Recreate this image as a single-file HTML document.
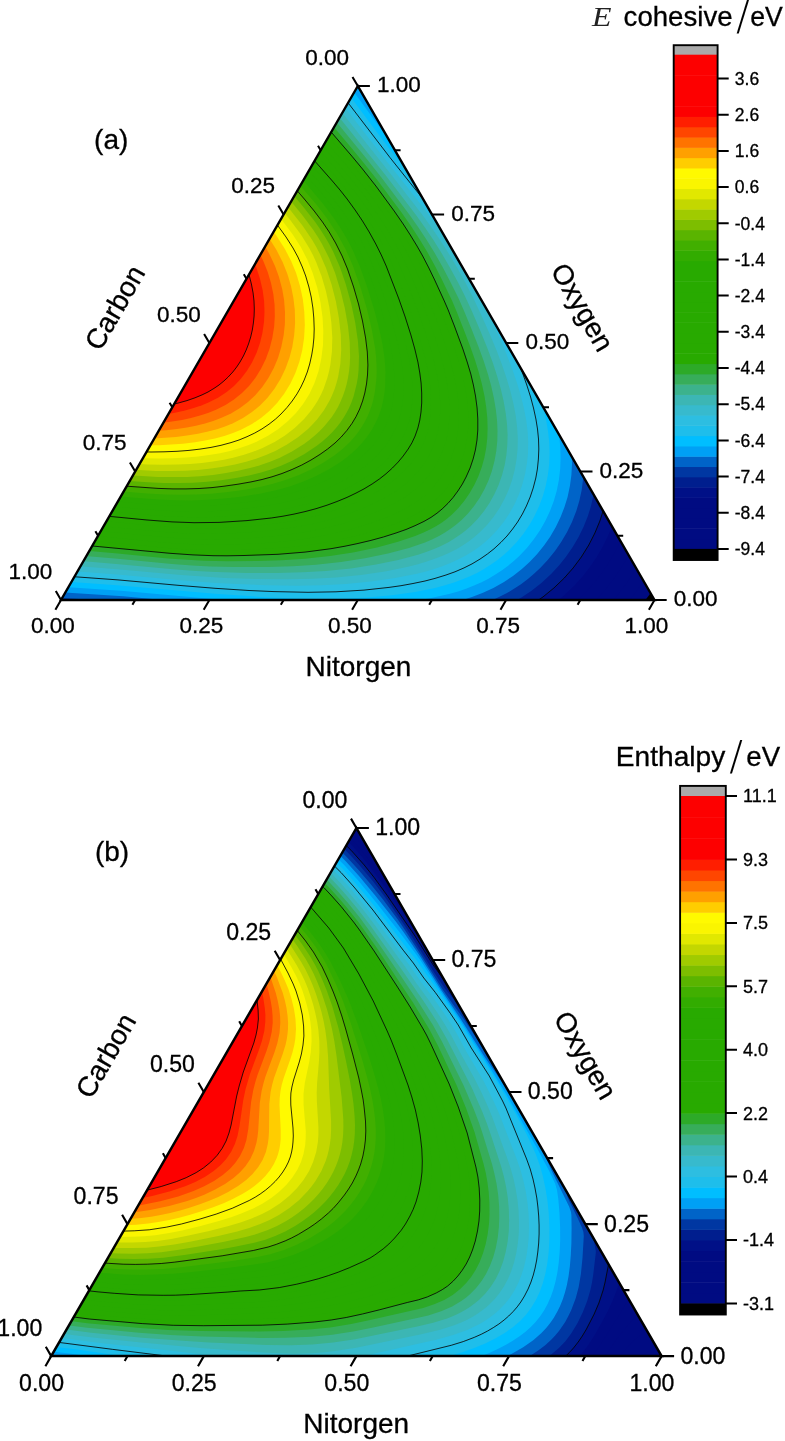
<!DOCTYPE html>
<html lang="en"><head><meta charset="utf-8"><title>Ternary contour plots</title>
<style>html,body{margin:0;padding:0;background:#fff}svg{display:block}text{stroke:#000;stroke-width:.3px}text.thin{stroke:none}</style></head>
<body>
<svg width="785" height="1441" viewBox="0 0 785 1441" font-family="'Liberation Sans', Arial, sans-serif" fill="#000">
<clipPath id="clipa"><path d="M357.8 86L61 600L654.5 600Z"/></clipPath>
<g clip-path="url(#clipa)" shape-rendering="geometricPrecision">
<path d="M357.8 86L61 600L654.5 600Z" fill="#000"/>
<path d="M57 82l361.8 0 11.2 16.5 10 14.1 10.1 13.4 11 14 17.9 21.4 58.8 68.6 79.8 95 24.3 30 9.1 12 8 11.3 0 201.9 -8 12.3 -8.5 11.5 -585.5 0z" fill="#000b82" fill-rule="evenodd"/>
<path d="M57 82l354 0 20.7 30 9.7 13 10.1 13 14.8 18 42.5 50 26.6 32 41.9 52 32.9 42 16.4 22 13.2 19 10.5 17 8.7 16.2 0 146.8 -7 14 -7.7 13 -8.3 12.1 -9.5 11.9 -569.5 0z" fill="#000b82" fill-rule="evenodd"/>
<path d="M57 82l346.4 0 20 29 17.6 23.5 15 18.6 43.8 51.9 25.3 31 34.3 44 33.1 44 20.5 29 8.6 13 6.8 11 6.4 11 5.8 11 4.8 10 4.2 10 3 8 2.5 8 2.2 8 1.7 8.1 0 57.4 -0.9 4.5 -3 12 -4 12 -4.9 12 -5.8 12 -6.3 11 -7.3 11 -8.4 11 -8.8 10 -552.6 0z" fill="#000b82" fill-rule="evenodd"/>
<path d="M57 82l339 0 20.7 30 16.4 22 15.9 19.9 40.4 48.1 22.6 28 27.7 36 30 41 23.6 34 9.1 14 8.6 14 6.9 12 6.4 12 5.7 12 4.6 11 4.4 12 3.4 12 2.6 12 1.7 12 0.8 12 -0.2 12 -1.1 12 -1.9 11 -2.9 12 -4 12 -5 12 -5.4 10.9 -6.5 11.1 -6.8 10 -7.9 10 -8.8 9.9 -5.1 5.1 -534.9 0z" fill="#000b82" fill-rule="evenodd"/>
<path d="M57 82l331.7 0 21.5 31 15.8 21.4 16 20.1 37.2 44.5 21 26 23.6 31 24.4 34 14.5 21 12.1 18 10.9 17 9.1 15 7.9 14 6.8 13 6.2 13 5 12 4.2 12 3.5 12 2.7 12 1.8 12 0.9 12 0 11 -0.9 12 -1.6 11 -2.9 12 -3.5 11 -4.5 11 -5.4 11 -6.4 11 -6.8 10 -7.8 10 -8.1 9 -6.1 6 -6.6 6 -516.2 0z" fill="#000b82" fill-rule="evenodd"/>
<path d="M57 82l324.5 0 23.5 33.6 15 20.3 15.9 20.1 35.9 43 18.4 23 21.1 28 21.3 30 13.5 20 13.1 20 11.3 18 10.1 17 8.3 15 7.2 14 6 13 5.4 13 4.5 13 3.4 12 2.6 12 1.8 12 0.9 12 0 11 -0.8 11 -1.7 11 -2.6 11 -3.1 10 -4.5 11 -5.4 11 -5.8 10 -6.8 10.1 -7.8 9.9 -8.2 9 -10 9.5 -10.4 8.5 -496.6 0z" fill="#001087" fill-rule="evenodd"/>
<path d="M57 82l317.4 0 24.6 35 14.8 20 16.5 21 33.3 40 16.8 21 18.9 25 18.9 27 13.4 20 12.8 20 11.6 19 10.5 18 8.8 16 7.1 14 6.4 14 5.3 13 4.6 13 3.5 12 2.7 12 1.9 12 1 12 0.2 11 -0.7 11 -1.5 11 -2.4 11 -3.2 10 -4.4 11 -5.4 11 -5.8 10 -6.6 9.7 -7.4 9.3 -7.6 8.3 -8 7.7 -7 6 -7.9 6 -7.4 5 -475.7 0z" fill="#001e8e" fill-rule="evenodd"/>
<path d="M57 82l310.4 0 27 38 13.2 18 17.3 22 31.5 38 16 20 17.9 24 17.4 25 12.4 19 12.5 20 11.4 19 10.2 18 9.1 17 7.4 15 6.2 14 5.2 13 4.5 13 3.4 12 2.7 12 1.7 11 1 12 0.2 11 -0.6 11 -1.5 11 -2.5 11 -3.1 10 -4.4 11 -4.9 10 -5.9 10 -6.7 9.8 -7 8.7 -7.9 8.5 -9.7 9 -10.2 8 -10.2 6.7 -11.3 6.3 -441.8 0 -10.9 -0.4z" fill="#0037a2" fill-rule="evenodd"/>
<path d="M57 82l303.3 0 7.5 10 24.2 34 15 20 16 20.2 30.5 36.8 14.9 19 14.6 20 13.8 20 11 17 11.7 19 11.1 19 10.6 19 8.5 16 7.8 16 6.7 15 5.6 14 4.5 13 3.4 12 2.7 12 2 12 1 11 0.2 11 -0.5 11 -1.4 11 -2.4 11 -3 10 -4.3 10.9 -4.9 10.1 -5.9 10 -6.2 9 -7.3 9 -7.5 8 -6.2 5.8 -6.1 5.2 -6.9 5.2 -7 4.6 -7 4.2 -8 4.1 -8 3.7 -8.2 3.2 -333.4 0 -39.4 -3.2 -53 -3z" fill="#0064c8" fill-rule="evenodd"/>
<path d="M57 82l296 0 7.9 10 24.4 34 16.7 22.2 17 21.4 27.5 33.4 13.3 17 14 19 12.9 19 11 17 10.9 18 10.9 19 10.3 19 8.7 17 7.7 16 6.6 15 5.5 14 4.4 13 3.4 12 2.7 12 1.9 12 1 11 0.3 11 -0.6 11 -1.5 11 -2.3 11 -3.1 10 -3.9 10 -4.8 10 -5.8 9.9 -6 8.6 -6.8 8.5 -7.6 8 -7.7 7 -8.9 7 -9 6 -10.6 6 -10.4 4.8 -11 4.3 -12 3.8 -12.4 3.1 -241.3 0 -83.3 -7.7 -66 -4.2z" fill="#00a0f5" fill-rule="evenodd"/>
<path d="M57 82l288.6 0 10.5 13 25.6 35 16.7 22 16.6 20.9 24.7 30.1 11 14 13.9 19 13 19 10.1 16 10.2 17 10.2 18 10.1 19 8.6 17 7.5 16 6.5 15 5.9 15 4.4 13 3.5 12 2.7 12 1.9 11 1.1 11 0.3 11 -0.4 11 -1.3 11 -2.2 11 -2.9 10 -3.8 10 -4.7 10 -5.1 9 -6.2 9.1 -7.1 8.9 -7.6 8 -5.5 5 -6 5 -5.8 4.2 -7 4.6 -7 4.1 -7 3.5 -7 3.1 -8 3.2 -8 2.7 -9 2.6 -19 4.3 -21 3.3 -23.1 2.4 -108.7 0 -49.2 -3.6 -107 -9.6 -64 -4.2z" fill="#00beff" fill-rule="evenodd"/>
<path d="M57 82l281.1 0 6.9 8 7 8.8 26.2 35.2 16.9 22 46.5 58 13.3 18 13 19 9.5 15 9.5 16 9 16 9.5 18 9 18 7.9 17 6.9 16 5.8 15 4.5 13 3.8 13 2.8 12 1.9 11 1.2 11 0.4 11 -0.4 11 -1.3 11 -2.2 11 -2.8 10 -3.7 10 -4.7 10 -5.1 9 -6.1 9 -6.5 8 -7.6 8 -5.5 5 -6.2 5 -6.5 4.6 -7 4.4 -7 3.9 -7 3.3 -8 3.4 -8 2.9 -9 2.8 -10 2.6 -19.9 4.1 -23.1 3.3 -25 2.3 -23 1.1 -24 0.4 -26 -0.6 -29 -1.3 -50 -3.4 -98 -8.6 -60 -4.2z" fill="#1ebeeb" fill-rule="evenodd"/>
<path d="M57 82l273.6 0 7.9 9 7.5 9.1 44 57.5 42.6 53.4 13.4 18 12.3 18 8.9 14 9 15 8.4 15 8.3 16 9.4 19 8.3 18 6.9 16 5.8 15 4.8 14 3.9 13 2.9 12 2.2 12 1.2 11 0.5 11 -0.4 11 -1 10 -2.1 11 -2.7 10 -3.6 10 -4.5 10 -5 9 -6.1 9 -6.4 8 -7.7 8 -5.6 5 -5.7 4.6 -6.3 4.4 -6.7 4.2 -7 3.8 -7 3.3 -8 3.2 -8 2.9 -18 5.1 -22 4.5 -23 3.3 -26 2.5 -22 1.1 -24 0.4 -25 -0.4 -34 -1.3 -45 -3 -88 -7.7 -61 -4.4z" fill="#2dbee1" fill-rule="evenodd"/>
<path d="M57 82l266 0 10 11 10 12.1 43 55.3 37.7 47.6 12.7 17 12.4 18 8.9 14 8.4 14 8.4 15 7.3 14 8.7 18 9.1 20 6.8 16 5.8 15 4.8 14 3.9 13 3 12 2.3 12 1.4 11 0.6 11 -0.2 11 -1 10 -1.9 11 -2.6 10 -3.4 10 -4.4 10 -5 9 -6 9 -6.7 8.3 -7.4 7.7 -5.6 5 -6 4.7 -6.3 4.3 -6.7 4 -7 3.6 -7 3.2 -8 3.2 -8 2.7 -9 2.7 -9 2.3 -22 4.4 -24 3.5 -25 2.4 -24 1.3 -25 0.4 -30 -0.5 -30 -1.1 -21 -1.2 -27 -1.9 -72 -6.5 -60 -4.5z" fill="#37bacd" fill-rule="evenodd"/>
<path d="M57 82l258.3 0 4.8 5 9.9 10.9 10 12 50.7 64.1 31.8 41 9.4 13 8.8 13 8.3 13 8.3 14 8.3 15 7.2 14 8 17 8.9 20 6.7 16 5.7 15 4.7 14 3.8 13 2.9 12 2.3 12 1.3 11 0.7 11 -0.2 11 -1 10 -1.9 11 -2.6 10 -3.5 10 -4.1 9 -4.9 9 -6.1 9 -6.5 7.9 -6.9 7.1 -5.7 5 -5.4 4.2 -6 4.1 -7 4.1 -7 3.6 -7 3.1 -8 3 -8 2.7 -9 2.6 -10 2.5 -22 4.5 -24 3.5 -25 2.5 -23 1.3 -26 0.5 -31 -0.2 -31 -1.1 -44 -2.8 -64 -5.9 -60 -4.7z" fill="#3cb6b4" fill-rule="evenodd"/>
<path d="M57 82l250.5 0 10.7 11 9.8 10.9 11 13.1 46.4 58 30.6 40 9.3 13 8.1 12 8.1 13 8.1 14 8.2 15 7.1 14 6.9 15 8.6 20 6.9 17 5.6 15 4.2 13 3.7 13 2.8 12 2.1 12 1.3 11 0.6 11 -0.3 10 -0.9 10 -1.7 10 -2.6 10 -3.5 10 -4.1 9 -5 9 -5.4 8 -6.5 8 -6.8 7 -5.8 5 -5 3.8 -6 4 -6 3.6 -7 3.5 -7 3.1 -7.9 3 -8.1 2.7 -19.7 5.3 -22.3 4.6 -25 3.8 -25 2.5 -23 1.4 -26 0.7 -31 -0.1 -30 -0.9 -20 -1.1 -20 -1.4 -60 -5.6 -59 -4.9z" fill="#3cb28c" fill-rule="evenodd"/>
<path d="M57 82l242.7 0 8.3 8.2 8.4 8.8 10.7 12 14.9 17.8 23 28 16 20.2 27.9 37 9.2 13 8.6 13 8 13 7.9 14 7.3 14 8.5 17 5.7 13 7.8 19 6.7 17 5.1 14 4.2 13 3.3 12 2.7 12 2 12 1.2 11 0.4 10 -0.2 10 -1 10 -1.8 10 -2.6 10 -3.2 9 -4.1 9 -5 9 -5.5 8 -6.1 7.5 -6.4 6.5 -5.6 4.8 -5 3.8 -6 3.9 -6 3.4 -7 3.5 -7 3 -16 5.5 -21 5.6 -23 4.8 -24 3.7 -25 2.7 -23 1.5 -25 0.7 -33 0.1 -25 -0.6 -18 -1 -20 -1.5 -57 -5.4 -58 -4.9z" fill="#37ad5a" fill-rule="evenodd"/>
<path d="M57 82l234.6 0 12.4 11.9 11.5 12.1 11.5 13 22 26 15 18.2 13.3 16.8 23.9 32 9.8 14 8.4 13 7.9 13 7.7 14 6.6 13 10.6 22 5 12 7.1 18 6.1 16 4.6 13 3.7 12 3.2 12 2.6 12 1.7 11 1.1 11 0.3 10 -0.3 10 -1.1 10 -1.9 10 -2.5 9 -3.3 9 -4.2 9 -4.6 8 -5.5 8 -5.8 7 -6.4 6.4 -5 4.3 -5 3.7 -5.6 3.6 -6.4 3.5 -7 3.3 -7.8 3.2 -17.2 5.8 -21 5.6 -24 5.1 -23 3.6 -25 2.7 -23 1.5 -25 0.8 -30 0.2 -23 -0.6 -17 -0.9 -19 -1.4 -53 -5.1 -58 -5.1z" fill="#2daa28" fill-rule="evenodd"/>
<path d="M57 82l226.5 0 15 14 15.5 16.3 33 38.1 13.8 16.6 12.2 15.3 21.2 28.7 10.3 15 7.7 12 8.3 14 6.4 12 6.9 14 10.5 23 10.1 25 7.4 20 4.5 13 3.6 12 2.9 11 2.2 11 1.6 11 1 11 0.3 10 -0.4 10 -1 9 -1.8 9 -2.5 9 -3.3 9 -3.9 8.2 -4.4 7.8 -5.6 8 -5.8 7 -6.2 6.2 -5 4.3 -5 3.6 -6 3.7 -6 3.1 -7 3.3 -8 3.3 -18 6.1 -21 5.8 -22 4.8 -22 3.7 -25 2.9 -23 1.6 -26 1 -26 0.4 -23 -0.6 -17 -0.9 -18 -1.4 -108 -10.2z" fill="#28aa00" fill-rule="evenodd"/>
<path d="M57 82l218.1 0 9.2 8 9.5 9 9.2 9.3 10 10.8 33 37.9 11 13.1 11.1 13.9 9.1 12 10.7 15 9.5 14 7.5 12 8.2 14 6.2 12 6.2 13 9.7 22 5.1 12 5.9 15 6.1 17 4.8 14 3.5 12 2.8 11 2.2 11 1.5 10 0.9 10 0.3 10 -0.3 10 -1 9 -1.8 9 -2.5 9 -2.9 8 -3.8 8 -4.5 8 -4.9 7 -5.6 6.8 -6.1 6.2 -4.9 4.1 -5.3 3.9 -5.7 3.5 -6.4 3.5 -7.6 3.6 -8 3.4 -18 6.4 -21 6 -22 5 -22 3.8 -23.1 2.8 -22.9 1.8 -28 1.1 -21 0.4 -22 -0.5 -17 -0.9 -18 -1.5 -105 -10z" fill="#28aa00" fill-rule="evenodd"/>
<path d="M57 82l209.5 0 11.5 9.6 11.2 10.4 11.8 11.9 12 13.1 33 37.8 18.1 22.2 9 12 9.2 13 8.6 13 7.4 12 6.3 11 5.3 10 5.3 11 5.3 12 10.1 24 5.9 15 6.2 17 5.6 17 3.4 12 2.7 11 2 10 1.4 10 0.9 10 0.2 10 -0.4 9 -1.1 9 -1.7 9 -2.3 8 -3 8 -3.9 8 -4.1 7 -4.9 7 -5.5 6.5 -6 5.9 -5.6 4.6 -5.4 3.8 -6 3.8 -6.2 3.4 -7.8 3.8 -8 3.4 -18.5 6.8 -20.2 6 -20.3 4.8 -22 3.9 -22 2.7 -22 1.8 -27 1.2 -21 0.4 -20 -0.5 -17 -0.9 -19 -1.5 -101 -9.9z" fill="#28aa00" fill-rule="evenodd"/>
<path d="M57 82l200.7 0 13.6 11 13.7 12.4 13.4 13.6 15.6 17.1 30 34.3 16.7 20.6 8.2 11 8.4 12 7.8 12 7.2 12 6.1 11 5.6 11 5 11 5.6 13 8.8 22 6.1 16 6 17 4.7 15 3 11 2.5 11 1.8 10 1.3 10 0.7 10 0 9 -0.6 9 -1 8 -1.7 8 -2.4 8 -3.2 8 -3.5 7 -4.3 7 -4.8 6.5 -5 5.7 -6 5.8 -5 4.1 -6 4.4 -6 3.8 -6.6 3.7 -7.4 3.7 -8 3.6 -18 7 -19 5.9 -20 4.9 -20 3.7 -22 2.9 -22 1.9 -26 1.3 -20 0.4 -20 -0.4 -17 -1 -20 -1.6 -75 -7.2 -22 -2.5z" fill="#28aa00" fill-rule="evenodd"/>
<path d="M57 82l191.5 0 9.4 7 9.1 7.4 9.7 8.6 9.3 8.9 17.3 18.1 29.7 33.6 18.1 21.4 7.7 10 7.3 10 6.8 10 6.9 11 6.5 11 5.9 11 5.8 12 5.7 13 6.1 15 8.1 21 10 29 3.7 12 3.1 12 2.2 10 1.5 9 1.1 9 0.6 9 0.1 9 -0.4 8 -1 8 -1.3 7 -1.9 7 -2.5 7 -2.7 6 -3.4 6.1 -4 6.1 -4.5 5.8 -5.4 6 -5.3 5 -4.9 4 -5.9 4.4 -6 3.9 -7 4.1 -15 7.4 -17 6.8 -18 5.9 -19 4.9 -20 3.8 -21 2.9 -22 2 -24 1.3 -20 0.4 -20 -0.4 -18 -1 -20 -1.7 -67 -6.5 -26 -2.9z" fill="#28aa00" fill-rule="evenodd"/>
<path d="M57 82l181.8 0 10.2 7.1 11 8.6 10.9 9.3 10.1 9.5 9.4 9.5 10.2 11 35.4 40.1 15.5 18.9 6.6 9 7 10 6.4 10 6 10 5.5 10 5 10 5.4 12 6.9 17 12 32 5.3 16 4 13 3 11 2.5 11 1.7 9 1.2 9 0.8 9 0.2 8 -0.2 8 -0.7 8 -1.1 7 -1.6 7 -1.9 6 -2.5 6.2 -3 5.8 -3.6 6 -4.4 6 -4.2 5 -4.8 5.1 -6 5.5 -5.4 4.4 -5.6 4 -6.1 4 -6.9 4 -15 7.5 -16 6.4 -17 5.6 -18 4.7 -18 3.5 -21 2.9 -22 2 -23 1.3 -19 0.4 -20 -0.5 -19 -1.1 -23 -1.9 -56 -5.5 -29 -3.4z" fill="#28aa00" fill-rule="evenodd"/>
<path d="M57 82l171.6 0 11.4 7.4 12 8.8 12 10 11.8 10.8 11 11 11.2 12 38.7 44 7.3 9 6.8 9 6.4 9 5.9 9 5.5 9 5.6 10 4.7 9 4.3 9 4.6 11 7.4 19 11 31 8.1 27 2.7 11 2.2 11 1.3 9 0.8 8 0.4 8 0 8 -0.5 8 -0.9 7 -1.3 6.7 -1.7 6.3 -2.2 6 -2.2 5 -3.4 6 -3.5 5.3 -4.4 5.7 -5.2 6 -5 5 -5.7 5 -10.7 8.1 -13 7.9 -14.2 7 -15.8 6.4 -16 5.3 -18 4.6 -17 3.2 -20 2.8 -22 2 -21 1.2 -19 0.3 -19 -0.5 -23 -1.4 -36 -3.3 -38 -3.9 -26 -3.2z" fill="#28aa00" fill-rule="evenodd"/>
<path d="M57 82l160.6 0 12.4 7.3 13 9 13 10.2 13 11.5 12 11.8 12.5 13.2 30.1 34 11.4 13.4 12.8 16.6 11.3 17 5.3 9 4.9 9 4.5 9 4 9 4.5 11 7.4 20 9.7 29 4.1 14 3.2 12 2.4 11 1.7 10 1 8 0.6 8 0.2 8 -0.2 7 -0.6 7 -1 7 -1.6 7 -1.9 6 -2.4 6 -2.9 5.9 -3 5.1 -4 5.7 -4.2 5.3 -4.5 5 -5.1 5 -5.7 5 -5.5 4.2 -6 4.2 -12.7 7.6 -14.3 7 -15 6 -15.7 5 -16.3 4.1 -17 3.2 -19 2.6 -21 1.9 -19 1.1 -19 0.3 -19 -0.5 -24 -1.5 -38 -3.5 -32 -3.3 -25 -3.3z" fill="#28aa00" fill-rule="evenodd"/>
<path d="M57 82l148.5 0 14.5 7.7 14.6 9.3 14.4 10.8 14 12.1 12.6 12.1 13.4 14.1 30.9 34.9 12.7 15 12 16 10.4 16 4.6 8 4.7 9 4.3 9 3.9 9 4.6 12 6.4 18 9.2 29 3.5 13 2.6 11 2 10 1.5 10 0.8 8 0.4 8 -0.1 7 -0.3 7 -0.8 7 -1.3 6.9 -1.6 6.1 -2 6 -2.4 5.7 -2.7 5.3 -3.3 5.5 -3.9 5.5 -4.1 5.1 -5 5.4 -5 4.8 -5.5 4.7 -11 8 -12.5 7.4 -14 6.8 -15 6 -15.1 4.8 -16.1 4 -16.8 3.1 -20 2.6 -20 1.8 -18 1 -18 0.1 -18 -0.5 -24 -1.6 -37 -3.4 -29 -3.2 -24 -3.2z" fill="#28aa00" fill-rule="evenodd"/>
<path d="M62.3 83l2.7 -1 126.9 0 8.1 3.5 7.2 3.5 7.8 4.2 8 4.8 7 4.5 15 11.1 14.4 12.4 13.6 13.1 15 15.9 30 34.1 14 17 11 15.4 9.5 15.5 8.2 16 7.1 17 4.8 13 5.3 16 4.4 14 3.6 13 3 12 2.3 11 1.6 10 1 9 0.6 8 0.1 7 -0.3 7 -0.6 7 -1.1 7 -1.3 6 -1.8 6 -2.2 6 -2.8 6 -2.7 5 -3.7 5.7 -4 5.3 -4.3 5 -4.8 5 -4.9 4.5 -5.5 4.5 -11.5 7.9 -12.4 7.1 -13.6 6.4 -15 5.7 -15 4.6 -15 3.5 -17 2.9 -19 2.4 -18 1.6 -17 0.8 -17 0.1 -18 -0.6 -25 -1.7 -34 -3.2 -27 -3 -23 -3.3 0 -409.1z" fill="#28aa00" fill-rule="evenodd"/>
<path d="M75.7 83l3.4 -1 96.2 0 7.7 2.5 8 3.1 7.7 3.4 7.3 3.6 14.6 8.4 14.4 9.9 14 11.2 14 12.8 9 9 9.5 10.1 25.7 29 15.2 18 11.6 15.3 5.2 7.7 4.9 8 4.5 8 4.1 8 7 16 7.2 20 7.7 25 3.4 13 2.6 11 2 10 1.4 9 1 9 0.5 9 -0.3 14 -0.7 7 -1 6 -1.3 6 -1.7 6 -2.2 6 -2.8 6 -3.2 6 -3.2 5 -3.7 5 -4.2 5 -4.8 5 -4.4 4.1 -5 4.1 -6 4.5 -11.5 7.3 -13.3 7 -13.2 5.7 -14 5 -14 3.9 -15 3.1 -17 2.7 -19 2.2 -16 1.2 -16 0.6 -16 -0.1 -18 -0.8 -26 -1.9 -29 -2.8 -24 -2.8 -22 -3.3 0 -399 9 -3.5z" fill="#32ac00" fill-rule="evenodd"/>
<path d="M95.2 83l5.9 -1 49.8 0 6.1 1.1 8 1.7 7 2 7 2.2 8 3 7 3 8 3.8 14.4 8.2 13.6 9.2 13.8 10.8 13.4 12 13.8 13.8 18.3 20.2 26.7 31 11.5 15 9.8 15 8.2 15 7.1 16 7.5 21 6.6 22 5 21 3.4 19 0.9 8 0.5 8 0.2 8 -0.3 7 -1.5 13 -1.4 7 -1.6 6 -2.1 6 -2.1 5 -3 6 -3 5 -3.4 5 -3.9 5 -4.4 4.9 -4.2 4.1 -4.8 4.2 -6 4.7 -12.2 8.1 -11.8 6.5 -11.9 5.5 -12.1 4.6 -13 4 -13 3.1 -16 3 -17 2.3 -17 1.7 -15 0.8 -15 0.2 -16 -0.3 -18 -1 -24 -2 -25 -2.5 -22 -2.8 -19 -3 0 -388.7 9 -3.5 10 -3.3 10 -2.6z" fill="#41af00" fill-rule="evenodd"/>
<path d="M109.3 86l14.7 -0.7 15 0.6 8 1 7 1.2 14 3.3 14 4.7 14 6.1 14 7.5 14 9.1 14 10.7 14 12.3 14 13.9 15 16.3 25 29 12.1 15 5.8 8 4.6 7 4.9 8 4.3 8 7.3 15.7 6 16.3 6.7 22 5 21 3.2 18 1.7 16 0.3 8 -0.2 7 -0.4 7 -0.9 7 -1.4 7 -1.5 6 -1.9 6 -2.4 6 -2.8 6 -2.9 5 -3.3 5 -3.7 5 -4.3 5 -4 4 -5.2 4.7 -5 4 -12 8.3 -13 7.4 -10 4.7 -11 4.4 -11 3.6 -11.1 2.9 -14.9 3 -15 2.4 -16 2 -15 1.1 -14 0.4 -15 0 -17 -0.7 -17.6 -1.2 -21.4 -1.9 -21 -2.3 -19 -2.5 -17 -2.8 0 -378.3 13 -4.9 13 -3.7 13 -2.8z" fill="#5ab400" fill-rule="evenodd"/>
<path d="M110.9 91l15.1 -0.4 14 0.9 14 2.2 14 3.5 14 5 14 6.3 13.3 7.5 13.7 9.1 14 11 14 12.6 14.2 14.3 16.2 18 22 26 11.6 14.8 5 7.2 5.1 8 4.1 7 4.1 8 6.6 15 5.8 17 5.6 20 4 19 2.6 18 1.1 15 -0.4 14 -0.7 7 -1.2 7 -3 12 -2.1 6 -2.6 6 -2.6 5 -3 5 -3.4 5 -4 5 -4 4.4 -4.6 4.6 -5.4 4.7 -5.5 4.3 -12 8 -12.8 7 -10.7 4.7 -10 3.7 -10 3.1 -12 2.9 -13.1 2.6 -14.9 2.3 -14 1.5 -14 0.9 -14 0.4 -15 -0.2 -16 -0.7 -19 -1.3 -20 -1.8 -19 -2.2 -17 -2.4 -16 -2.7 0 -367.8 13.7 -5 13.3 -3.7 13 -2.7z" fill="#7dbe00" fill-rule="evenodd"/>
<path d="M115.8 96l14.2 0.2 14 1.4 14 2.8 13 3.8 14 5.5 13 6.4 13 7.8 13 9.2 14.5 11.9 14.8 14 15.1 16 18.2 21 15.6 19 10.8 14.6 4.9 7.4 4.1 7 7.1 14 6 15 5.3 17 4.4 18 3.2 18 1.7 16 0.4 15 -0.3 7 -0.7 7 -1.1 6.8 -1.3 6.2 -1.7 6 -2.1 6 -2.5 6 -2.4 4.9 -2.9 5.1 -3.3 5 -7.3 9 -4.5 4.7 -4.6 4.3 -5.4 4.5 -6 4.4 -12 7.6 -12.7 6.5 -9.3 3.8 -10 3.5 -10 2.8 -12 2.7 -12 2.2 -13 1.9 -13 1.3 -13 0.7 -14 0.2 -15 -0.2 -16 -0.8 -18 -1.2 -19 -1.8 -17 -2.1 -16 -2.3 -15 -2.7 0 -357 14 -5.1 15 -4 15 -2.7z" fill="#a0cb00" fill-rule="evenodd"/>
<path d="M105.7 102l14.3 -0.6 14 0.6 14 2.1 14 3.3 13.4 4.6 13.6 6 13 7.2 13 8.5 13 10 13 11.4 13.9 13.9 14.1 15.5 19.7 23.5 14.1 18 9.4 14 4.1 7 3.7 7.2 6 13.8 5.4 16 4.4 17 3.1 17 1.9 17 0.4 15 -0.9 14 -2.2 13 -1.6 6 -1.9 6 -2.4 6 -2.3 5 -5.8 10 -7.1 9.5 -4.1 4.5 -4.9 4.9 -9.7 8.1 -11.3 7.6 -11.7 6.4 -9.3 4.1 -10 3.7 -10 3 -11 2.7 -12 2.3 -12 1.8 -13 1.3 -13 0.8 -14 0.3 -15 -0.1 -17 -0.8 -17 -1.2 -17 -1.6 -17 -2 -16 -2.4 -15 -2.8 0 -346 12 -4.4 12 -3.5 12 -2.5z" fill="#c3d700" fill-rule="evenodd"/>
<path d="M113.2 107l13.8 0.2 13 1.3 14 2.8 13 3.9 13 5.2 13 6.5 12 7.2 12.6 8.9 13.4 11 13.7 13 14.1 15 14.6 17 16.8 21 11 15 8 13 3.7 7 3.2 7 5.4 14 4.4 15 3.4 16 2.1 16 0.9 15 -0.4 14 -1.6 13 -1.3 6.6 -1.7 6.4 -3.8 11 -2.5 5.5 -2.9 5.5 -3.1 5 -3.4 5 -7.5 9 -9.1 8.7 -10 7.8 -10.4 6.5 -12.1 6 -9.5 3.8 -9 3 -10 2.7 -10 2.2 -11 1.9 -11.3 1.4 -11.7 1 -13 0.6 -14 0.2 -15 -0.3 -16 -0.7 -16 -1.2 -16 -1.6 -15 -2 -14 -2.2 -14 -2.6 0 -334.8 14 -5.1 14 -3.7 14 -2.5z" fill="#e1e800" fill-rule="evenodd"/>
<path d="M105.9 113l13.1 -0.4 14 0.9 13 2.1 13 3.3 13 4.6 13 6 13 7.3 12.1 8.2 12.9 10.1 13 11.8 12.8 13.1 13.2 14.9 15.4 19.1 15 20 8.4 13 6.7 13 5.2 13 4.4 14 3.3 15 2.1 15 0.8 14 -0.3 14 -1.6 13 -2.8 13 -4.1 12 -5.1 11 -6.3 10 -7.1 8.9 -8 8.2 -9.6 7.9 -10.4 6.8 -11 5.7 -8.3 3.5 -8.7 3.1 -10 2.8 -10 2.3 -11 1.9 -11 1.4 -12 1.1 -13 0.6 -14 0.3 -14 -0.3 -15 -0.6 -16 -1.2 -15 -1.5 -15 -2 -14 -2.3 -13 -2.6 0 -323.3 12 -4.4 12 -3.4 12 -2.4z" fill="#faf500" fill-rule="evenodd"/>
<path d="M102.4 119l13.6 -0.6 13 0.7 13 1.9 13 3.1 13 4.5 12.2 5.4 12.8 7 12.1 8 12.9 10 12 10.7 12.2 12.3 12.5 14 14.5 18 15.4 21 8.4 13 6.3 12 5 12 4.3 14 2.9 13 2 15 0.7 14 -0.5 13 -1.7 12.6 -2.9 12.4 -4.1 12 -5.1 11 -5.6 9 -7.7 10 -4.6 5 -4 3.9 -8.7 7.1 -9.3 6.1 -11 5.7 -8 3.4 -8 2.8 -10 2.8 -10 2.2 -10 1.7 -11 1.4 -13 1.1 -13 0.6 -13 0.2 -14 -0.3 -15 -0.7 -14 -1.1 -14 -1.4 -13 -1.8 -13 -2.2 -13 -2.7 0 -311.5 11.7 -4.3 11.3 -3.2 11 -2.3z" fill="#fffa00" fill-rule="evenodd"/>
<path d="M100.9 125l13.1 -0.6 13 0.6 13 1.9 13 3.2 13 4.5 12 5.4 12 6.6 12 7.9 12 9.3 12 10.8 12 12.2 11.6 13.2 13.5 17 13.5 19 8.3 13 6.2 12 5 12 3.9 13 2.8 13 1.5 13 0.5 13 -0.7 13 -1.8 12 -3 12 -3.9 11 -5.2 11 -6.2 10 -6.9 9 -7.7 8 -8.4 7 -9 6 -11 5.7 -8 3.4 -8.7 2.9 -9.3 2.5 -10 2.1 -10 1.7 -12 1.4 -12 0.9 -12 0.6 -13 0.1 -13 -0.2 -14 -0.7 -13 -1.1 -13 -1.5 -12 -1.7 -12 -2.1 -12 -2.6 0 -299.3 11 -4.1 11 -3.2 11 -2.4z" fill="#ffcd00" fill-rule="evenodd"/>
<path d="M101.4 131l12.6 -0.5 12 0.7 13 2 12 3 12 4.1 12.6 5.7 11.4 6.4 12 8 12 9.4 11 9.9 11 11.3 11.3 13 11.7 15 11.8 17 8.7 14 6.1 12 4.8 12 3.6 12 2.4 12 1.4 12 0.3 13 -0.9 12 -1.9 12 -2.9 11 -4.1 11 -4.8 10 -6.2 10 -7 9 -7.3 7.5 -8 6.6 -9 6 -10 5.1 -8 3.3 -8 2.7 -9 2.4 -10 2.2 -11 1.8 -11 1.3 -11 0.9 -12 0.6 -12 0.2 -12 -0.2 -12 -0.6 -13 -1.1 -12 -1.4 -12 -1.8 -12 -2.3 -11 -2.5 0 -286.7 11 -4.1 11 -3.2 11 -2.3z" fill="#ffa000" fill-rule="evenodd"/>
<path d="M105.7 137l12.3 0.1 12 1.1 12 2.4 11.8 3.4 12.2 4.8 11 5.5 11 6.6 11 7.7 11 9.1 10.9 10.3 11.1 11.9 10 12.1 10.3 14 9.8 15 7.3 13 5.6 12 4 11 3.2 12 1.9 11 0.9 12 -0.1 12 -1.2 11 -2.4 12 -3.3 10.9 -4.2 10.1 -5.4 10 -6.1 9 -6.8 8 -7.5 7 -8 6 -9 5.4 -10 4.7 -7.8 2.9 -8.2 2.5 -9 2.2 -9 1.7 -10 1.6 -11 1.3 -11 0.8 -11 0.5 -11 0.1 -11 -0.3 -12 -0.8 -11 -1 -11 -1.4 -11 -1.9 -10 -2 -10 -2.4 0 -273.7 12 -4.5 12 -3.3 12 -2.2z" fill="#ff7300" fill-rule="evenodd"/>
<path d="M98.3 144l11.7 -0.5 12 0.5 12 1.8 11 2.6 12 4.1 11 4.8 11 6 11 7.2 11 8.5 10.1 9 9.9 10.1 10.3 11.9 9.9 13 8.7 13 7.6 13 5.8 12 4.4 11 3.3 11 2.3 11 1.3 11 0.2 11 -0.7 11 -1.8 11 -2.8 11 -3.7 10 -4.9 10 -5.6 9 -6.3 8 -7 7.1 -8 6.5 -8.5 5.4 -9.5 4.8 -8 3.2 -8 2.6 -9 2.4 -9 1.9 -10 1.7 -10.4 1.4 -10.6 1 -10 0.5 -10 0.1 -11 -0.2 -11 -0.7 -11 -1 -11 -1.5 -10 -1.7 -10 -2.1 -10 -2.5 0 -260.2 10 -3.9 10 -3 11 -2.4z" fill="#ff4600" fill-rule="evenodd"/>
<path d="M95.7 151l11.3 -0.7 11 0.3 11 1.4 11 2.4 11 3.4 11 4.5 10.9 5.7 10.1 6.3 10 7.4 10 8.5 9.9 9.8 9.1 10.2 8.5 10.8 8.3 12 7.2 12 6 12 4.5 11 3.5 11 2.6 11 1.5 11 0.4 11 -0.5 10 -1.6 11 -2.4 10 -3.5 10 -4.5 9.5 -5.2 8.5 -6.1 8 -6.7 6.9 -7.3 6.1 -8.7 5.7 -9 4.6 -7 2.9 -8.3 2.8 -8.7 2.4 -10 2.3 -10 1.8 -9 1.3 -9 0.8 -10 0.6 -10 0.2 -10 -0.3 -11 -0.7 -10 -1 -10 -1.4 -10 -1.8 -9.7 -2.2 -9.3 -2.5 0 -246 9 -3.6 10 -3.2 10 -2.3z" fill="#ff1e00" fill-rule="evenodd"/>
<path d="M96.2 158l10.8 -0.6 10 0.4 10 1.2 11 2.4 11 3.5 9.8 4.1 9.7 5 9.7 6 9.6 7 9.4 8 9.2 9 9 10 7.8 10 7.5 11 6.4 11 5.4 11 4 10 3.4 11 2.5 11 1.4 10 0.5 10 -0.4 10 -1.6 11 -2.3 9.3 -3.4 9.7 -3.7 8 -4.9 8.1 -6.1 7.9 -6.8 7 -7.1 5.7 -8 5.2 -9 4.5 -7 2.8 -8 2.7 -10 2.7 -9 2.1 -8 1.5 -9 1.3 -9 0.8 -9 0.5 -9 0 -10 -0.3 -9 -0.6 -10 -1.1 -10 -1.5 -9 -1.8 -9 -2.1 -9 -2.6 0 -231.2 9 -3.6 10 -3.2 10 -2.3z" fill="#fd0000" fill-rule="evenodd"/>
<path d="M102.9 165l10.1 0.1 10 1 9.6 1.9 9.4 2.7 10 3.7 9 4.3 9 5.2 9 6.1 9 7.2 8.5 7.8 8.5 9 7.4 9 7.2 10 6.2 10 5.3 10 4.3 10 3.4 10 2.8 11 1.8 10 0.9 10 -0.1 10 -1.1 10 -1.8 9 -2.8 9 -3.4 8 -4.5 8 -5.1 7 -5.5 6 -6.8 6 -7.2 5 -8 4.4 -9 3.9 -7 2.4 -9 2.7 -8 2 -8 1.7 -8 1.3 -8 0.9 -16 0.8 -17 -0.6 -9 -0.8 -9 -1.1 -17 -3.4 -8 -2 -8 -2.5 0 -215.5 11 -4.5 12 -3.6 11 -2.1z" fill="#fd0000" fill-rule="evenodd"/>
<path d="M100.6 173l9.4 0 9 0.7 9 1.6 9 2.3 9 3.2 9 4 9 5 8 5.2 9 7 7.9 7 7.7 8 6.8 8 6.7 9 5.7 9 5.2 9.6 4.2 9.4 3.3 9 2.7 10 2 10 1.1 10 0.2 10 -0.8 9 -1.6 9 -2.3 8 -3.2 8 -3.6 6.6 -4.4 6.4 -5.4 6 -6.2 5.5 -6.3 4.5 -7.7 4.4 -8.1 3.6 -6.9 2.6 -7.6 2.4 -15.4 3.7 -8 1.4 -8 1 -16 0.8 -8 -0.1 -9 -0.5 -9 -0.9 -8 -1.1 -16 -3.3 -8 -2.3 -8 -2.6 0 -198.7 10.2 -4.4 10.8 -3.5 11 -2.3z" fill="#fd0000" fill-rule="evenodd"/>
<path d="M93.5 182l8.5 -0.6 9 0.2 9 1 8 1.5 9 2.6 8 3.1 8 3.7 7.8 4.5 7.4 5 7.8 6.1 7 6.3 7 7.3 6.1 7.3 5.9 8.1 5 7.9 4.9 9 3.9 9 3.3 9 2.4 9 1.8 9 1 9 0.3 9 -0.6 9 -1.4 8 -2.2 8 -2.8 7 -3.2 6 -4.3 6 -5.1 5.4 -5.5 4.6 -6.5 4.4 -7 3.8 -7 3.1 -7 2.6 -8 2.5 -8 2 -8 1.6 -8 1.1 -8 0.8 -9 0.4 -8 0 -9 -0.5 -8.1 -0.8 -8.9 -1.3 -8 -1.6 -8.4 -2.1 -7.6 -2.3 -8 -3 0 -180.4 9 -4.2 9 -3.2 9 -2.4z" fill="#fd0000" fill-rule="evenodd"/>
<path d="M94.8 191l7.2 -0.4 8 0.2 8 0.8 8 1.6 8 2.3 7 2.7 8 3.8 7 4 7 4.7 6.7 5.3 6.3 5.7 6.1 6.3 5.9 7 5.1 7 4.9 7.8 3.9 7.2 3.6 8 3.3 9 2.3 8 1.8 9 1 9 0.3 8 -0.5 8 -1 7 -1.8 7 -2.2 6 -2.7 5.2 -3.3 4.8 -4.7 5 -4.8 4 -5.9 4 -6.3 3.5 -6 2.8 -7.1 2.7 -7.9 2.5 -8 2 -8 1.6 -8 1.1 -8 0.7 -8 0.2 -8.2 -0.1 -8.8 -0.6 -8 -1 -8 -1.4 -8 -1.8 -7.6 -2.2 -7.4 -2.6 -7 -2.9 0 -160.4 9 -4.5 9.5 -3.6 9.5 -2.5z" fill="#fd0000" fill-rule="evenodd"/>
<path d="M95.6 201l6.4 -0.3 7 0.2 7 0.7 7 1.4 7 2 7 2.6 6 2.8 6.6 3.6 6.4 4.2 6 4.6 5.8 5.2 5 5 5.2 6 4.6 6 4.4 6.8 3.5 6.2 3.5 7.2 3.1 7.8 2.2 7 1.8 8 1.2 8 0.5 7 -0.1 8 -0.8 7 -1.3 6 -1.6 5 -2.3 5 -2.7 4.2 -3.3 3.8 -4.5 4 -5.2 3.7 -6 3.5 -6 2.8 -7 2.8 -7 2.2 -7.9 2 -7.1 1.3 -8 1.1 -8 0.6 -8 0.1 -8 -0.3 -8 -0.7 -7 -1.1 -8 -1.6 -7 -1.9 -7.5 -2.5 -7.3 -3 -6.2 -3 0 -137.7 9 -5 10 -4.1 10 -2.8z" fill="#fd0000" fill-rule="evenodd"/>
<path d="M90.9 213l6.1 -0.7 6 -0.2 6 0.2 6 0.8 6 1.2 6 1.8 6 2.3 5.6 2.6 5.4 3 6 4 5 3.9 4.6 4.1 5 5 4.2 5 4.2 5.6 3.5 5.4 3.5 6.3 3.1 6.7 2.2 6 2.1 7 1.4 7 0.8 6 0.3 7 -0.3 6 -0.7 5 -1.3 5 -1.9 5 -2.1 4 -2.9 4 -3.7 3.9 -3.8 3.1 -4.5 3 -5.5 3 -6.2 2.7 -7 2.4 -7.1 1.9 -6.9 1.3 -8 1.1 -8 0.5 -8 -0.1 -8 -0.5 -7 -0.9 -7 -1.4 -7.7 -2 -6.3 -2.1 -7 -2.9 -6 -3 -6 -3.7 0 -110.7 8 -5.3 8 -4.1 9 -3.2z" fill="#aaaaaa" fill-rule="evenodd"/>
<path d="M374.4 82l26.6 37.7 16.6 22.3 15.4 19.3 35.5 42.7 20.4 26 18.3 25 18.4 27 13.7 21 13.7 22 11.3 19 9.9 18 8.2 16 6.9 15 5.6 14 4.7 14 3.8 14 2.6 13 1.5 13 0.5 12 -0.5 13 -1.5 12 -2.6 12 -3.5 11 -5 12 -6.1 12 -7.5 12 -8.2 11 -8.8 10 -10.4 10 -10.9 8.9 -10.3 7.1M330.6 82l7.9 9 7.5 9.1 44 57.5 41 51.4 10.6 14 10 14 8 12 8.2 13 14.6 25 14.5 28 14.2 30 6 14 5.1 13 4.6 13 3.8 12 2.9 11 2.4 11 1.6 10 1 10 0.3 10 -0.4 10 -1 10 -1.6 9 -2.6 10 -3 9 -3.8 9 -4 8 -4.8 8 -5 7 -5.6 7 -6 6.3 -7 6.5 -6.6 5.2 -7.4 5.1 -8 4.8 -8 4 -9 3.9 -9 3.2 -11 3.4 -10 2.6 -12 2.5 -12 2.2 -12 1.7 -25 2.7 -28 1.7 -28 0.5 -34 -0.7 -25 -1.1 -34 -2.2 -37 -3 -60 -5.4 -61 -4.4M283.5 82l8.5 7.8 8.5 8.2 8.5 8.9 9 9.8 34 39.6 10.5 12.7 13.4 17 18.3 25 9 13 7.1 11 6.7 11 5.7 10 6.2 12 5.8 12 9.6 21 3.9 9 6.2 16 8.5 23 4.3 13 3.6 12 2.6 11 2.1 11 1.6 12 0.7 11 0 11 -0.8 10 -1.6 10 -2.3 9 -3 9 -4 9 -3.7 7 -4.5 7 -4.9 6.6 -5 5.7 -5.9 5.7 -5.1 4.2 -6 4.2 -7 4 -9 4.3 -9 3.8 -10 3.5 -12.6 4 -12.4 3.4 -14 3.3 -12 2.5 -14 2.5 -26 3.4 -27 2.2 -34 1.2 -17 0.3 -14 -0.1 -20 -0.8 -23 -1.6 -113 -10.6M228.6 82l8.4 5.4 9 6.3 8.2 6.3 8.5 7 8.3 7.5 8 7.6 18.1 18.9 34.4 39 8.5 10 7.1 9 8 11 7.4 11 6.7 11 6.6 12 5.5 11 4.9 11 12.7 33 6.3 18 5.7 18 3.9 14 3.1 13 1.9 11 1.3 10 0.6 10 0 10 -0.7 9 -1.2 8 -1.9 8 -2.8 8 -3.1 6.7 -3.8 6.3 -5 7 -5 6 -5.8 6 -6.4 5.8 -6.6 5.2 -7.3 5 -8.1 4.9 -8 4.2 -9 4.3 -10 4.1 -10 3.7 -11 3.5 -11 2.9 -11 2.5 -11 2.1 -11.7 1.8 -24.3 2.6 -28 1.8 -25 0.3 -22 -0.8 -25 -1.9 -56 -5.4 -34 -4.1M57 99.2l12 -4.5 12 -3.6 12 -2.8 12 -1.8 12 -1 12 -0.2 12 0.8 12 1.8 12 2.7 11 3.3 11 4.2 11 5 11 6 11 7 11 7.9 11 8.9 13.3 12.1 13.7 13.8 14.6 16.2 20.7 24 9.9 12 8.3 11 6.7 10 6.4 11 6.5 13 5.4 13 6.1 18 4.9 17 4 17 3.1 17 1.7 14 0.6 13 -0.4 10 -1 9 -1.7 9 -2.2 8 -2.9 8 -3.7 7.7 -4 6.7 -5 6.9 -5.8 6.7 -6.2 6 -7.4 6 -7.6 5.4 -9 5.6 -9.2 5 -9.8 4.5 -10 4 -10 3.3 -10 2.7 -11 2.4 -13 2.3 -14 2 -12 1.4 -13 0.9 -13 0.4 -13 0 -15 -0.5 -34 -2.4 -36 -3.8 -16 -2.2 -15 -2.5M57 130.3l10 -3.7 10 -3.1 10 -2.3 10 -1.6 10 -0.9 10 -0.3 10 0.5 9.3 1.1 9.7 1.8 10 2.6 10 3.4 9 3.7 9.1 4.5 9.9 5.6 9 5.9 8.8 6.5 10.2 8.4 10 9.2 10 10.2 10.1 11.2 10.8 13 11.6 15 11.5 16 7 11 4.9 9 4.4 10 3.4 9 3.2 11 2.3 10 1.7 11 0.9 10 0.4 11 -0.3 9 -0.9 9 -1.3 8 -2 9 -2.4 8 -3.1 8 -3.3 7 -3.9 6.9 -4.8 7.1 -5.2 6.5 -6 6.5 -5.4 5 -6.6 5.2 -7 4.7 -7.2 4.1 -7.8 3.7 -8 3.3 -8 2.6 -10 2.7 -10 2.1 -11 1.7 -11 1.3 -12 0.9 -13 0.5 -13 0.2 -14 -0.3 -14 -0.7 -14 -1.1 -14 -1.6 -13 -1.8 -13 -2.2 -12 -2.5M57 168.6l7 -2.9 8 -2.8 8 -2.2 8 -1.6 8 -1.1 8 -0.5 8 0 8 0.6 8 1.1 8 1.7 7.4 2.1 7.6 2.7 7.8 3.3 7.2 3.6 7.5 4.4 7.6 5 7.9 6 7.1 6 7.4 7 7.5 7.9 6.8 8.1 6.1 8 5.5 8 5.5 9 4.3 8 3.8 8 3.1 8 3 9 2.3 9 1.7 9 0.9 8 0.3 8 -0.2 7 -0.7 7 -1.1 7 -1.6 7 -2.2 7 -2.3 6 -2.8 6 -3.4 6 -3.3 5 -3.9 5 -4.6 5 -4.3 4 -4.9 4 -5 3.4 -6 3.6 -6 2.9 -7 2.9 -8 2.8 -9 2.5 -10 2.4 -8 1.5 -9 1.3 -9 0.9 -9 0.5 -9 0.2 -10 -0.3 -10 -0.7 -10 -1.1 -10 -1.5 -9 -1.8 -9 -2.1 -9 -2.6" fill="none" stroke="#050505" stroke-width="0.95" stroke-opacity="0.88"/>
</g>
<path d="M61.0 600.0L55.4 609.8M357.8 86.0L352.5 76.9M357.8 86.0L369.9 86.0M135.2 600.0L132.4 604.8M320.7 150.2L318.0 145.7M394.8 150.2L400.6 150.2M209.4 600.0L203.7 609.8M283.6 214.5L278.3 205.4M431.9 214.5L444.1 214.5M283.6 600.0L280.8 604.8M246.5 278.8L243.8 274.2M469.0 278.8L474.8 278.8M357.8 600.0L352.1 609.8M209.4 343.0L204.1 333.9M506.1 343.0L518.3 343.0M431.9 600.0L429.2 604.8M172.3 407.2L169.6 402.7M543.2 407.2L549.0 407.2M506.1 600.0L500.5 609.8M135.2 471.5L129.9 462.4M580.3 471.5L592.5 471.5M580.3 600.0L577.6 604.8M98.1 535.8L95.4 531.2M617.4 535.8L623.2 535.8M654.5 600.0L648.9 609.8M61.0 600.0L55.8 590.9M654.5 600.0L666.7 600.0" stroke="#000" stroke-width="2.05" fill="none"/>
<path d="M357.8 86L61 600L654.5 600Z" stroke="#000" stroke-width="2.40" fill="none" stroke-linejoin="miter"/>
<clipPath id="clipb"><path d="M356.4 828L51.2 1356.1L661.6 1356.1Z"/></clipPath>
<g clip-path="url(#clipb)" shape-rendering="geometricPrecision">
<path d="M356.4 828L51.2 1356.1L661.6 1356.1Z" fill="#000"/>
<path d="M47.2 824l316.5 0 16.9 25 32.5 47 20.5 28 11.6 16.4 7 9.4 19.4 22.2 8.6 7.5 11 8.8 9 6.5 8 5.1 7 3.7 7 2.8 6 1.5 6 0.6 4 -0.2 3 -0.5 4 -1.2 3 -1.3 4 -2.4 3 -2.2 6 -6 6 -8 6 -10.4 6 -12.7 5 -12.5 6 -17.6 5 -17.5 4 -17 2.2 -14 2 -17 0.7 -15 -0.5 -15 -1.6 -14 64.2 0 0 537 -619 0z" fill="#000b82" fill-rule="evenodd"/>
<path d="M47.2 824l309.6 0 8.4 10.8 11 15 25.8 36.2 8.9 13 19.7 27 17.5 25 20.1 23.8 12 10.7 11 9.2 9 6.9 8 5.4 7 4 7 3.1 7 1.9 6 0.6 4 -0.2 3 -0.5 4 -1.3 3 -1.4 4 -2.5 3 -2.5 3 -2.9 3 -3.5 6 -8.7 5 -9.1 6 -13.1 6 -15.7 6 -18.6 5 -18.2 4.4 -19.4 2 -13 1.8 -17 0.7 -15 -0.5 -16 -1.6 -14 63.2 0 0 519 -7 3 -10 5.1 -8 4.7 -7.5 5.2 -586.5 0z" fill="#000b82" fill-rule="evenodd"/>
<path d="M47.2 824l302.4 0 4.8 5 4.8 5.7 14 17.8 12 16.2 13.8 19.3 8.9 13 19.6 27 17.2 25 19.5 24 15 13.9 13 11.5 9 7.3 8 5.7 7 4.2 8 3.5 7 1.9 6 0.5 4 -0.3 3 -0.7 4 -1.5 3 -1.6 3 -2.1 3 -2.6 3 -3.2 3 -3.8 6 -9.5 6 -11.9 5 -12.1 6 -16.8 6 -19.6 5 -19.1 4.5 -20.7 2 -13 1.9 -18 0.6 -15 -0.5 -16 -1.7 -14 62.2 0 0 495.3 -5 1.7 -5 2.5 -6 3.9 -7 5.5 -8 6.7 -6 5.6 -14.2 15.8 -567.8 0z" fill="#000b82" fill-rule="evenodd"/>
<path d="M47.2 824l294.8 0 8.2 7.5 7 7.7 9 10.9 12 15.5 17.1 23.4 8.2 12 20.7 28.7 17 25.3 19 24.1 32 30.7 8 7.1 7 5.6 9 5.8 8 4 7 2.3 4 0.7 3 0.2 4 -0.2 3 -0.6 3 -1.1 3 -1.5 3 -2.1 3 -2.6 3 -3.2 3 -4 5 -8.1 6 -12.3 6 -15 6 -17.7 6 -20.3 5 -19.4 4.5 -20.4 2.7 -16 2 -19 0.8 -16 -0.5 -17 -1.7 -15 61.2 0 0 472.2 -3 0 -3 0.3 -5 1.6 -5 3 -5 4.3 -7 7.6 -18 21.4 -3.5 4.6 -9.5 14 -6.3 8 -553.7 0z" fill="#000b82" fill-rule="evenodd"/>
<path d="M47.2 824l286.6 0 8.4 6.5 9 8.3 8 9 10.6 13.2 9.2 12 13.2 18 8 11.7 21 29.3 17 25.7 18.6 24.3 37.4 38 7 6.5 6 4.9 10 7 9 4.9 4 1.6 4 1.2 4 0.7 3 0.2 3 -0.2 3 -0.7 3 -1.1 3 -1.7 3 -2.3 3 -3 5 -6.8 5 -9.1 6 -13.9 6 -16.7 6 -19.3 6 -21.8 5 -20.4 4.4 -21 2.9 -17 2 -19 0.8 -17 -0.6 -17 -1.7 -15 60.2 0 0 453.1 -4 -1.3 -4 -0.8 -4 -0.2 -3 0.3 -3 0.8 -3 1.5 -3 2.1 -2.6 2.5 -3.4 4.3 -3 4.5 -13.4 23.2 -19.6 31 -6 8.5 -6.3 7.5 -540.7 0z" fill="#000b82" fill-rule="evenodd"/>
<path d="M47.2 824l277.7 0 9.3 6 10 8 9 8.8 9 10.2 12.4 16 14.6 20 8 11.8 9 12.2 11.1 16 16.9 26.2 18 24.5 21.1 22.3 17.9 20 6 6.2 8 7.3 8 6.5 8 5.6 7 4.2 6 2.7 5 1.5 5 0.6 3 -0.2 3 -0.7 3 -1.3 3 -2 3 -2.8 2 -2.4 2.8 -4.2 2.2 -3.8 5 -11 5 -13.8 6 -19.2 6.8 -24.2 6.2 -24.9 5 -22.1 4 -20.3 2.5 -15.7 1.8 -19 0.8 -17 -0.6 -17 -1.8 -15 59.3 0 0 438 -6 -3.4 -5 -2.3 -5 -1.7 -5 -0.9 -4 0.1 -4 1 -3.9 2.2 -3.1 2.8 -3 4.1 -3 5.8 -2.5 6.3 -6 17 -3.2 8 -4.6 10 -5.8 11 -7.9 13.9 -6 9.3 -6.8 8.8 -6.7 7 -527.5 0z" fill="#001087" fill-rule="evenodd"/>
<path d="M47.2 824l268 0 3 1.4 6 3.3 6 3.8 6 4.4 6 4.9 10 9.7 13 14.7 9 11.4 12.6 17.4 27.5 40 18.9 30 15 21 21.7 24 16.3 20.1 5 5.8 8 8.3 9 8.4 10 8.7 9 6.9 7 4.6 6 3 5 1.8 5 0.5 3 -0.4 3 -1.1 2 -1.3 2.5 -2.3 2.5 -3.3 2 -3.3 4 -8.9 4 -11.8 5 -17.7 9 -35.7 8 -33.9 5 -23 4 -20.4 3.3 -20 1.3 -12 1.2 -17 0.3 -14 -0.8 -15 -1.6 -13 58.3 0 0 425.6 -7 -5.2 -7 -4.5 -6 -3.4 -5 -2.2 -4 -1.3 -5 -1 -3 -1.2 -3 -0.8 -2 0 -2 0.4 -2.4 1.6 -1.5 2 -0.9 2 -1.7 6 -2.3 5 -1.8 5 -2.6 10 -3.9 20 -1.9 8 -4.3 13 -4.7 11 -7.7 15 -4.2 7 -4.1 6 -4.7 6 -4.3 4.7 -4 3.8 -5.6 4.5 -512.4 0z" fill="#001e8e" fill-rule="evenodd"/>
<path d="M47.2 824l257.7 0 7.3 3.1 7 3.6 7 4.2 6 4.1 6 4.7 6 5.3 6 6 8 8.7 15 17.9 11 14.4 18.7 27 9.2 14 21.1 34 11.3 17 7.7 9.6 14.9 17.4 15.1 20.6 7 8.5 9 9.8 20 20.4 11 10.7 8 7.4 7 5.7 6 4 5 2.2 4 0.7 2 -0.3 2 -0.8 2 -1.6 1.8 -2.3 1.2 -2.2 1.6 -3.8 2.3 -8 2.1 -10.2 10.3 -56.8 14.7 -70.7 6 -31.3 3.7 -24 1.3 -14 0.9 -14 0.2 -10 -0.4 -11 -0.7 -10 -1.4 -10 57.4 0 0 415.2 -9 -7.8 -10.5 -8.4 -25.1 -29 -7.9 -10 -5.5 -8 -6 -3.8 -3 -1.5 -3 -1 -3 -0.3 -2 0.3 -2 1.1 -1 0.9 -2 3 -1.3 3.3 -1.2 5 -1 7 3.3 12 2.5 11 7.4 38 -0.1 2 -2.6 22 -1.3 8 -1.5 7 -3.2 11 -4.3 11 -5.3 11 -6.4 10.5 -6 7.9 -6.3 6.6 -7.7 6.4 -9.5 6.6 -494.5 0z" fill="#0037a2" fill-rule="evenodd"/>
<path d="M47.2 824l247.1 0 7.9 3 7 3.1 7 3.5 7 4.2 6.2 4.2 6.5 5 5.8 5 5.5 5.4 11 12 13 15.4 12 15 15 20.3 8 11.8 12.3 19.1 23.8 38 9.9 14.2 11.5 15.8 15.5 23.5 7 8.9 16.3 18.6 17.1 21 25.9 34 8.6 12 4.5 12 3.5 13 2.4 13 2.8 21 1 3 9.3 19 4.5 10 1.3 4 0.4 4 -1.3 22 -1.6 16 -2.2 13 -2.9 11 -4.6 12.2 -2.8 5.8 -3.2 5.9 -6.2 9.1 -3.8 4.6 -4 4.2 -6 5.4 -7 5.3 -8 5.2 -9.2 5.3 -473.8 0zM609.7 824l56.5 0 0 406.1 -11.6 -11.1 -7.1 -9 -15.6 -21 -6 -9 -6.9 -11 -10 -12 -9 -12 -6.3 -10 -5 -10 -2.7 -7 -1.2 -7 -1.5 -16 -0.4 -17 0.7 -19 1.8 -20 2.3 -17 3.2 -20 15.6 -85 3 -20 1.3 -12 1.1 -17 0.3 -15 -0.8 -15z" fill="#0064c8" fill-rule="evenodd"/>
<path d="M47.2 824l236.6 0 9.4 3.3 9 3.7 8 3.8 8 4.5 8 5.2 7 5.3 7 6 6 5.9 13 14.5 16 19.3 21 26.6 8 10.9 15 22.1 22 34.9 19.5 29 23.5 37.2 30.5 44.8 26.1 43 7.4 19 3 7 18 36.7 1.8 5.3 0.4 3 0.2 13 -0.2 15 -0.6 12 -0.9 11 -1.3 10 -1.7 9 -1.8 7 -2.2 7 -2.8 7 -3 6 -3.4 6 -3.5 5.1 -4 5 -5 5.2 -8 6.9 -10 7 -11.8 6.8 -14.2 7 -414.9 0 -19.1 -2.8 -9 -0.8 -7 -0.2zM610.6 824l55.6 0 0 398 -6 -6.3 -16.6 -22.7 -10 -15 -7.8 -13 -10.2 -14 -8.7 -14 -6.3 -12 -5 -12 -2.7 -11 -2 -12 -1.5 -15 -0.5 -16 0.4 -16 1.5 -18 2 -17 2.6 -18 13.3 -79 2.5 -19 0.9 -11 0.9 -16 0.1 -14 -0.8 -14z" fill="#00a0f5" fill-rule="evenodd"/>
<path d="M47.2 824l226.7 0 11.5 4 10.1 4 9.7 4.5 8.4 4.5 8.6 5.5 8 5.8 7 5.9 7 6.8 14 15.6 19 23.1 22 28 16 21.3 5 7.1 20.1 30.9 20.1 30 32.1 51 14.2 23 30.8 54 11.7 22 6 12.8 1.8 6.2 1.3 9 1.2 14 0.6 14 0.1 13 -0.5 12 -1 11 -1.4 10 -1.9 9 -2.2 8 -2.5 7 -3.1 7 -3.4 6.2 -4 6 -4.6 5.8 -4.8 5 -5.6 5 -6 4.5 -6.8 4.5 -6.9 4 -7.7 4 -8.6 3.9 -10 4.2 -10.4 3.9 -351.8 0 -45.8 -7.3 -15 -1.7 -9 -0.7zM611.5 824l54.7 0 0 390.7 -1.5 -1.7 -8.7 -12 -12.3 -18 -6.3 -10 -6.2 -10.6 -11.6 -17.4 -8 -14 -5.8 -12 -4.1 -10 -3.8 -15 -2.5 -14 -1.6 -15 -0.6 -15 0.3 -16 1.2 -18 1.7 -16 2.3 -17 11.7 -76 1.9 -15 1 -13 0.7 -16 -0.1 -13 -0.8 -13z" fill="#00beff" fill-rule="evenodd"/>
<path d="M47.2 824l217.7 0 14.1 5 11.2 4.4 10 4.6 9 4.8 9 5.5 9 6.5 8 6.7 7 6.8 13.2 14.7 18.2 22 21.6 27.8 10.7 14.2 10.3 12.8 10.6 15.2 9.4 12.9 18 26.2 6 9.1 32 50.7 14 23 9 16.1 11 20.6 6 12.3 3.9 9.1 3.6 10 3.1 11 2.6 12 2.1 13 1.3 13 0.6 14 -0.1 13 -0.7 12 -1.4 11 -1.9 10 -2.4 9 -3.2 9 -3.8 8 -4.8 8 -5.3 7 -5.7 6 -6.9 6 -8.5 6 -9.5 5.6 -10 4.9 -11 4.5 -12 4.2 -11 3.3 -20.1 5.5 -274.5 0 -83.2 -12 -26.2 -3zM612.3 824l53.9 0 0 383.3 -11.4 -16.3 -9.1 -14 -10.1 -17 -11.6 -18 -5.1 -9 -4.1 -8 -5.9 -13 -3.3 -9 -3.8 -15 -2.8 -16 -1.6 -15 -0.7 -15 0.2 -15 1 -17 1.5 -16 1.9 -16 10.7 -75 1.4 -12 1 -14 0.5 -15 -0.1 -13 -0.9 -13z" fill="#1ebeeb" fill-rule="evenodd"/>
<path d="M47.2 824l209.6 0 16.4 6 12.3 5 10.8 5 9.9 5.3 10 6.2 9 6.5 9 7.6 7 7.1 12.8 14.3 19.2 23.4 30 39.8 10.1 12.8 10.9 15.6 11 13.7 13 17.9 9 13.2 4 6.6 10.1 18 18.6 29 13.2 25 3.6 8 20.3 50 3.5 10 3 11 2.3 11 1.8 12 1.1 12 0.4 12 -0.2 12 -0.9 11 -1.5 10 -2.1 10 -2.7 9 -3.2 8 -4 8 -4.4 7 -5.5 7 -5.9 6 -8.4 7 -9.2 6 -10.9 5.8 -12 5 -9 3.1 -10 3 -41 10 -19.2 5.1 -191.6 0 -31.2 -5 -54 -6.7 -65 -8.4zM613.2 824l53 0 0 376.4 -14.3 -21.4 -6.2 -10 -6.5 -11.3 -8.7 -13.7 -6.8 -12 -5.6 -11 -6.5 -15 -2.9 -9 -3.8 -15 -2.8 -16 -1.6 -14 -0.7 -15 0 -15 0.8 -17 1.2 -14 1.9 -17 9.7 -73 1.1 -11 0.9 -15 0.5 -14 -0.2 -12 -0.9 -13z" fill="#2dbee1" fill-rule="evenodd"/>
<path d="M47.2 824l202.4 0 18.2 7 14.3 6 11.1 5.3 10.5 5.7 10.5 6.7 9.9 7.3 8.1 7 7.9 8 12.1 13.6 19 23.4 38.8 52 11 16 10.9 14 12 17 8.4 13 4.7 8 9 17 17.6 30 10.4 21 5.3 12 17.8 46 3.7 11 2.7 10 2.4 11 1.6 11 1.1 11 0.4 12 -0.3 11 -0.9 10 -1.5 10 -2.1 9.3 -2.7 8.7 -3.2 8 -4.1 8 -4.5 7 -4.8 6 -5.8 6 -4.6 4 -4.3 3.3 -5.5 3.7 -5.5 3.2 -12 5.8 -14 5.1 -17 4.6 -65 14.6 -19 4 -15.1 2.7 -79.8 0 -86.1 -10.3 -37 -3.9 -36 -4.1 -51 -6.7zM614 824l52.2 0 0 369.9 -12.4 -18.9 -11.1 -19 -8.7 -14 -7.3 -13 -5.9 -12 -6.3 -15 -3.1 -10 -3.8 -15 -2.8 -16 -1.5 -14 -0.8 -14 -0.1 -16 0.7 -16 1 -14 1.7 -16 8.9 -73 0.9 -9 0.9 -16 0.3 -14 -0.3 -11 -1 -13z" fill="#37bacd" fill-rule="evenodd"/>
<path d="M47.2 824l196 0 22.1 9 13.7 6 12.1 6 10.7 6 10.7 7 9.7 7.3 8.7 7.7 8.7 9 8.6 9.7 10.3 12.3 7.2 9 6.8 9 33.5 46 10.9 16 11 15 9.7 14 7 11 6.4 11 10.2 19.5 13 23.5 7.5 15 6.4 14 4.1 10 14.6 40 4 12 2.8 10 2.1 10 1.8 11 1.1 11 0.4 11 -0.2 11 -0.9 10 -1.6 10 -2.1 9 -2.9 9 -3.1 7.5 -4 7.5 -4.6 7 -4.8 6 -6 6 -4.7 4 -5.5 4 -5.4 3.4 -6 3.3 -6 2.8 -7 2.8 -14 4.4 -20 4.7 -64 13.3 -23 3.5 -11 1.2 -11 0.9 -17 0.4 -21 -0.6 -21 -1.3 -52 -3.9 -59 -5.4 -44 -4.6 -25 -3 -25 -3.8zM614.9 824l51.3 0 0 364 -11.4 -18 -9.3 -16 -9.1 -15 -7.6 -14 -5.8 -12 -5.4 -13 -4 -13 -3.6 -15 -2.6 -15 -1.6 -14 -0.9 -14 -0.1 -15 0.5 -17 1.1 -15 1.4 -15 8.2 -72 0.7 -8 0.7 -15 0.2 -14 -0.3 -11 -0.9 -12z" fill="#3cb6b4" fill-rule="evenodd"/>
<path d="M47.2 824l190.2 0 23.3 10 15.3 7 12.2 6.2 11.7 6.8 10.5 7 10.3 8 8.8 8 9.7 10.2 8 9.1 9.7 11.7 13.1 17 33.4 47 22.1 32 12.3 19 9.6 17 24.5 48 10.5 24 4.3 11 4.2 12 10.4 32 2.7 10 2.1 10 1.7 11 1 11 0.3 11 -0.3 11 -1.2 11 -1.9 10 -2.7 10 -3.4 9 -3.9 8 -5.1 8 -5.4 6.7 -6 6 -4 3.4 -5.3 3.9 -4.8 3 -5.9 3.2 -6 2.8 -6 2.4 -14 4.4 -16 3.7 -62 12.7 -22 3.3 -21 2 -21 0.7 -24 -0.2 -58 -2.6 -23 -1.3 -44 -3.4 -51 -5 -21 -2.6 -23 -3.7zM615.7 824l50.5 0 0 358.3 -9.6 -15.3 -18.2 -31 -7.4 -14 -6.1 -13 -4.5 -11 -4.6 -15 -3.4 -14 -2.8 -16 -1.6 -14 -0.8 -14 -0.3 -15 0.5 -16 0.9 -15 1.6 -17 7.3 -69 1.1 -22 0.2 -13 -0.4 -11 -0.9 -12z" fill="#3cb28c" fill-rule="evenodd"/>
<path d="M47.2 824l184.9 0 26.5 12 14.6 7 13.2 7 11.7 7 11.1 7.7 10 8 9 8.4 10.2 10.9 9.6 11 12.1 15 18.1 25 21.3 31 18.2 27 15.2 24 9.3 17 21.2 43 10.3 24 5 13 3.4 10 9.9 32 2.5 10 2.1 10 1.6 11 0.9 11 0.2 11 -0.4 10 -1.2 11 -1.9 10 -2.5 9 -3.4 9 -3.9 8 -4.4 7 -5.5 7 -5.9 6 -4 3.4 -4.9 3.6 -9.1 5.4 -11 4.8 -13 4.2 -10 2.4 -45 9.7 -20 4 -21 3.2 -21 2 -26 1.1 -25 0.1 -58 -1.4 -32 -1.5 -31 -2.3 -52 -4.9 -18 -2.4 -22 -3.8zM616.5 824l49.7 0 0 353 -8.6 -14 -16.8 -29 -7.4 -14 -6.4 -14 -4.4 -11 -4.8 -16 -3.4 -14 -2.7 -16 -1.6 -14 -0.8 -13 -0.3 -15 0.3 -16 0.8 -14 1.5 -18 6.6 -66.7 1 -22.3 0.1 -13 -0.4 -11 -0.9 -11z" fill="#37ad5a" fill-rule="evenodd"/>
<path d="M47.2 824l180 0 29.4 14 14 7 13.6 7.5 12.1 7.5 11.2 8 10.7 8.9 10 9.7 11 11.9 8 9.5 11.2 14 18.5 26 36.4 55 15.9 26 8.9 17 18.4 39 9.5 23 8.5 24 9.1 32 2.2 9 1.6 9 1.3 10 0.7 11 0.1 11 -0.5 10 -1.3 10 -2 10 -2.6 9 -3.4 9 -4.1 8 -4.5 7 -4.9 6.1 -6 6 -7.5 5.9 -8.5 5 -10 4.3 -11 3.6 -53 12.2 -19 4 -21 3.4 -21 2 -26 1.4 -25 0.5 -57 -0.4 -33 -1 -28 -1.9 -53 -4.8 -17 -2.2 -23 -4.2zM617.3 824l48.9 0 0 347.9 -6.6 -10.9 -17.8 -31 -7.2 -14 -5.8 -13 -4.2 -11 -4.8 -16 -3.5 -15 -2.6 -15 -1.4 -11 -0.9 -12 -0.5 -13 0 -13 0.5 -15 1.1 -17 5.9 -64 1.4 -21 0.4 -15 -0.2 -14 -1 -14z" fill="#2daa28" fill-rule="evenodd"/>
<path d="M47.2 824l175.5 0 30.1 15 15.3 8 14 8 12.4 8 10.9 8 10.6 9 10.2 10 12 13.1 6.6 7.9 11.1 14 18.2 26 33.6 52 17.2 29 7.5 15 18.1 40 8.9 23 7.8 23 8.1 31 1.7 8 1.3 8 1 10 0.5 11 -0.1 11 -0.8 10 -1.5 10 -2.1 9 -2.8 9 -3.3 8 -3.6 7 -4.6 7 -4.8 6 -6 5.9 -5 3.9 -6 3.7 -7.2 3.5 -7.6 3 -6.2 1.9 -11 2.6 -36.4 9.5 -20.6 4.7 -19 3.3 -17 2 -28 2.2 -29 1.1 -18 -0.1 -34 0.5 -22 -0.2 -19 -0.5 -23 -1.5 -54 -4.7 -17 -2.3 -23 -4.3zM618.1 824l48.1 0 0 343 -16.4 -28 -6.1 -11 -7.1 -14 -6.6 -15 -4.3 -12 -4.4 -15 -3.4 -15 -2.4 -14 -1.4 -12 -0.9 -11 -0.5 -13 0 -13 0.4 -15 0.9 -16 5.5 -64 1.2 -20 0.3 -16 -0.3 -13 -1 -14z" fill="#28aa00" fill-rule="evenodd"/>
<path d="M47.2 824l171.4 0 32.4 17 14.7 8 13.5 8 12.1 8 12 9 10.4 9 10.5 10.4 12 13.2 7 8.4 10 12.8 17.5 25.2 28.4 45 7.8 13 11.8 21 3.7 7 4.2 9 18.1 42 7.8 21 6.2 20 7.2 29 2 10 1.2 8 0.8 9 0.3 10 -0.3 10 -0.7 9 -1.4 9 -1.9 9 -2.8 9 -3.2 8 -3.7 7.3 -4.3 6.7 -4.7 5.9 -5.1 5.1 -4.9 3.9 -5 3.3 -6 3.2 -6 2.5 -7 2.5 -22 6.7 -22 6.3 -21 5.1 -19 3.6 -16 2.1 -29 2.7 -26 1.4 -20 0.2 -35 0.9 -23 0.1 -18 -0.5 -28 -1.7 -47 -4.1 -18 -2.4 -22 -4.3zM618.8 824l47.4 0 0 338.4 -15.3 -26.4 -6 -11 -7.4 -15 -6 -14 -4.5 -13 -4.3 -15 -3.1 -14 -2.5 -15 -1.5 -13 -0.9 -14 -0.4 -14 0.2 -15 1.5 -30 5.2 -64.4 0.6 -20.6 -0.1 -13 -0.5 -10 -1 -11z" fill="#28aa00" fill-rule="evenodd"/>
<path d="M47.2 824l167.5 0 46.9 26 14.7 9 12.9 8.8 12 9.2 10.2 9 10.8 10.8 12 13.3 7.4 8.9 9.6 12.5 17.3 25.5 8.8 14 16.3 27 8.6 15 9.8 18 4.6 9 4.2 9 16.5 40 7.2 20 5.7 19 3.1 12 2.8 13 2 11 1.4 10 0.8 9 0.2 10 -0.3 9 -0.9 9 -1.5 9 -2.1 9 -2.5 8 -3.3 8 -3.7 7 -4 6.1 -4.8 5.9 -5.2 5 -5 3.9 -4.8 3.1 -5.2 2.8 -6 2.8 -8.6 3.4 -13.9 5 -22.5 7.1 -20 5.2 -19 3.9 -17 2.6 -29 3.2 -22 1.4 -59 1.8 -23 0.3 -18 -0.4 -27 -1.6 -45 -3.9 -19 -2.7 -21 -4.1zM619.6 824l46.6 0 0 333.9 -13.7 -23.9 -6.5 -12 -7.2 -15 -5.9 -14 -4.5 -13 -3.9 -14 -3.1 -14 -2.6 -15 -1.5 -13 -1 -14 -0.4 -14 0.1 -15 1.4 -30 4.8 -64 0.4 -20 -0.1 -12 -0.5 -10 -1 -11z" fill="#28aa00" fill-rule="evenodd"/>
<path d="M47.2 824l163.8 0 48.5 28 14.1 9 12.8 9 11.5 9 11.1 10 10.9 11 12.7 14 8.1 10 9.5 12.7 5.7 8.3 11.6 18 20.1 34 16.3 30 5.5 11 4.8 10.5 14 34.5 7.5 21 6.1 21 2.9 12 2.4 12 1.8 11 1.2 10 0.6 9 0 9 -0.4 9 -1 9 -1.6 9 -2.4 9 -2.7 8 -3.1 7 -3.9 7 -4.1 6 -4.3 5 -5.2 5 -4.8 3.8 -5 3.3 -6 3.5 -6.9 3.4 -17.1 7.2 -20 6.7 -20 5.6 -18 4.1 -21 3.5 -25 3.1 -20 1.4 -62 2.5 -21 0.4 -19 -0.4 -26 -1.4 -43 -3.8 -19 -2.6 -21 -4.2zM620.3 824l45.9 0 0 329.5 -12.3 -21.5 -6.4 -12 -6.7 -14 -6.3 -15 -4.7 -14 -3.9 -14 -3.1 -14 -2.5 -15 -1.5 -13 -0.9 -13 -0.5 -14 0 -15 1.3 -30 4.4 -63 0.3 -19 -0.1 -12 -0.5 -10 -1.1 -11z" fill="#28aa00" fill-rule="evenodd"/>
<path d="M47.2 824l160.4 0 33.5 20 16.2 10 15.1 10 12.3 9 12.2 10 10.8 10 11.6 12 12.9 14.5 7.4 9.5 10.3 14 16.4 26 16.5 29 16 31 5.2 11 4.8 11 12.9 33 7.4 22 5.3 20 2.5 12 1.9 11 1.3 10 0.8 10 0.2 9 -0.3 9 -0.9 9 -1.3 8 -2 9 -2.4 7.6 -2.9 7.4 -3.5 7 -3.7 6 -4.5 6 -4.6 5 -5.5 5 -5.2 4 -6.1 4 -6 3.5 -6.9 3.5 -14 6 -18.1 6.3 -19 5.5 -17.9 4.2 -23.1 4.1 -20 2.6 -16 1.2 -66 3.2 -20 0.4 -20 -0.4 -25 -1.4 -39 -3.5 -20 -2.8 -20 -4.1zM621.1 824l45.1 0 0 325.3 -10.4 -18.3 -7.4 -14 -6.6 -14 -5.8 -14 -4.6 -14 -3.9 -14 -3.1 -14 -2.6 -16 -1.5 -13 -1 -13 -0.4 -14 0 -14 1 -29 4 -62 0.3 -19 -0.2 -12 -0.5 -10 -1 -11z" fill="#28aa00" fill-rule="evenodd"/>
<path d="M47.2 824l157.2 0 33.8 21 15.6 10 14.6 10 13.3 10 11.9 10 11.7 11 11.5 12 13.4 15.2 16.9 22.8 15.9 26 14.4 26 15.7 32 5 11 5 12 12.1 32 6.9 22 2.6 10 2.2 10 1.9 11 1.6 11 0.8 9 0.4 9 -0.1 9 -0.6 8 -1.3 9 -1.6 8 -2.3 8 -2.5 7.1 -3.1 6.9 -3.9 7.2 -4 6 -4.7 5.8 -5.7 6 -5.7 5 -5.3 4 -5.6 3.8 -11 6.1 -14.4 6.1 -18.6 6.7 -17 5.1 -17 4.1 -21 4 -17 2.2 -12 1 -70 3.9 -19 0.4 -21 -0.3 -12 -0.6 -22 -1.5 -27 -2.7 -19 -2.6 -20 -4.2zM621.8 824l44.4 0 0 321.2 -9.2 -16.2 -7.3 -14 -6.1 -13 -5.8 -14 -5 -15 -3.8 -14 -3.3 -15 -2.5 -15 -1.5 -13 -0.9 -13 -0.5 -14 -0.1 -14 0.9 -28 3.7 -62 0.2 -19 -0.3 -12 -0.5 -9.7 -1 -10.3z" fill="#28aa00" fill-rule="evenodd"/>
<path d="M47.2 824l154.1 0 32.5 21 16.5 11 15.5 11 12.9 10 12.7 11 11.5 11 11.3 12 13.8 16 15.4 21 15.5 26 13.4 25 15.4 33 7.8 19 13.2 36 6.2 21 3.9 18 1.5 10 1.4 12 0.6 9 0 8 -0.4 8 -0.9 8 -1.5 8 -2 8 -2.6 8 -2.7 6.6 -4 7.8 -4 6.6 -4 5.5 -6.4 7.5 -4.9 5 -4.6 4 -10.9 8 -7 4 -17.8 8 -15.5 6 -16.9 5.3 -18 4.6 -17 3.4 -15 2 -10 0.9 -15 0.7 -15 1.3 -41 2.6 -18 0.5 -22 -0.1 -33 -2.1 -27 -2.6 -19 -2.8 -19 -3.9zM622.5 824l43.7 0 0 317.3 -7.6 -13.3 -7.2 -14 -6.5 -14 -5.4 -13 -4.7 -14 -4.2 -15 -3.3 -15 -2.7 -16 -1.5 -13 -1 -13 -0.5 -13 -0.1 -14 0.8 -29 3.3 -61 0.2 -19 -0.9 -21 -1 -10z" fill="#28aa00" fill-rule="evenodd"/>
<path d="M47.2 824l151.1 0 31.4 21 17.4 12 14.9 11 13.8 11 12.4 11 12.2 12 12.8 14 12.7 15 10.2 14 4 6 15 26 12.8 25 13.6 31 6.7 17 14 40 2.9 10 2.5 10 1.9 9 1.5 9 1.2 10 0.7 9 0.2 9 -0.3 8 -0.7 8 -1.4 8 -1.9 8 -2.2 7 -2.7 7 -3.3 7 -4 7 -4 6 -5.4 6.9 -5.5 6.1 -5.2 5 -6.3 5.2 -9 6.2 -12.2 6.6 -13.8 6.4 -14 5.4 -15 4.8 -17 4.4 -13 2.6 -14 1.8 -78 6.1 -18 0.7 -22 0 -31 -1.8 -27 -2.6 -20 -2.8 -19 -4zM623.2 824l43 0 0 313.6 -7.6 -13.6 -6.6 -13 -6.4 -14 -4.8 -12 -5 -15 -4.1 -15 -3.3 -15 -2.4 -15 -1.5 -12 -1 -13 -0.6 -14 -0.2 -14 0.8 -29 2.9 -59 0.1 -19 -0.9 -21 -1 -10z" fill="#28aa00" fill-rule="evenodd"/>
<path d="M47.2 824l148.3 0 30.3 21 18.1 13 14.5 11 13.3 11 13.2 12 12.9 13 14.3 16 11.5 14 11.9 17 9.7 17 6.4 12 6.5 13 4.7 10 4.2 10 12.8 32 13.6 40 3.2 11 2.7 11 1.9 10 1.5 10 0.8 9 0.4 9 -0.1 8 -0.5 8 -1.1 8 -1.4 7 -2.2 8 -2.4 6.9 -3.1 7.1 -3.6 7 -3.7 6 -4.6 6.5 -5 6.2 -5 5.3 -6 5.6 -6 4.9 -9.7 6.5 -11.3 6.4 -13 6.1 -13 5.2 -14 4.6 -13.6 3.7 -12.4 2.5 -14 1.9 -75 6.7 -19 0.9 -20 0.1 -12 -0.4 -17 -1 -28 -2.5 -21 -3 -19 -4zM623.9 824l42.3 0 0 310 -7.1 -13 -6.5 -13 -5.9 -13 -5.1 -13 -4.9 -15 -3.8 -14 -3.2 -15 -2.5 -15 -1.4 -12 -1 -13 -0.7 -14 -0.2 -14 0.7 -28 2.7 -59 0 -18 -1 -21 -1.1 -11z" fill="#28aa00" fill-rule="evenodd"/>
<path d="M47.2 824l145.6 0 30.6 22 17.5 13 15.2 12 13.9 12 12.7 12 13.3 14 15.7 18 10.2 13 6.3 9 4.4 7 10.9 20 5.4 11 5.5 12 9 22 11.1 30 7.2 22 4.5 15 2.9 11 2.2 10 1.7 10 1.1 10 0.6 9 0 8 -0.4 8 -0.8 7 -1.4 8 -1.7 7 -2.3 7 -2.8 7 -3.4 7 -3.7 6.5 -4.3 6.5 -4.6 6 -5.1 5.8 -5.2 5.2 -5.6 5 -6.2 4.8 -10 6.6 -11 6.2 -12 5.7 -13 5.1 -13 4.3 -12 3 -12 2.3 -14 1.7 -30.9 3.3 -39.1 3.7 -19 1.1 -19 0.2 -12 -0.3 -15 -0.9 -28 -2.5 -21 -2.9 -19 -4.1zM624.6 824l41.6 0 0 306.5 -7.2 -13.5 -6.4 -13 -6.1 -14 -4.1 -11 -4.8 -15 -3.7 -14 -3 -14 -2.4 -15 -1.5 -12 -1 -13 -0.6 -13 -0.3 -14 0.5 -28 2.4 -58 0 -19 -0.9 -20 -1.1 -10z" fill="#28aa00" fill-rule="evenodd"/>
<path d="M47.2 824l143.1 0 28.2 21 18.2 14 15.9 13 13.5 12 13.3 13 13 14 16.9 20 10 13 6 9 4.8 8 10.2 20 8.9 20 8.6 23 11.3 33 5.2 17 3.9 14 2.7 11 2.1 11 1.4 10 0.8 10 0.2 8 -0.2 8 -0.8 8 -1.1 7 -1.6 7 -2 7 -2.5 6.6 -2.9 6.4 -3.7 7 -3.7 6 -4.3 6 -4.9 6 -5.5 6 -5 4.7 -6 5.1 -6 4.5 -6 4 -7 4.2 -14.4 7.5 -14.6 6.1 -15 4.7 -11 2.6 -13 2.2 -27 3.4 -35 3.9 -19 1.8 -17 0.9 -16 0.3 -17 -0.5 -23 -1.6 -20 -2.1 -17 -2.7 -16 -3.5zM625.3 824l40.9 0 0 303.1 -7.4 -14.1 -6.1 -13 -6 -14 -3.9 -11 -4.4 -14 -3.6 -14 -2.9 -14 -2.4 -15 -1.5 -13 -0.9 -12 -0.6 -13 -0.3 -13 0.4 -27 2.2 -57 -0.1 -19 -1 -20 -1 -10z" fill="#32ac00" fill-rule="evenodd"/>
<path d="M47.2 824l140.6 0 27.3 21 17.6 14 15.5 13 14.1 13 12.9 13 12.7 14 18.9 23 9 12 5.8 9 4.6 7.8 9.7 20.2 7.1 17 7.7 22 11.6 37 4.5 16 3.1 12 2.3 11 1.7 10 1.3 11 0.6 10 0 8 -0.5 7 -0.8 7 -1.3 7 -1.8 7 -2.4 7 -2.8 6.9 -3 6 -3.5 6.1 -4.5 6.7 -4.8 6.3 -5.2 6 -5 5.1 -5.4 4.9 -6.2 5 -6.4 4.5 -12.1 7.5 -13.9 7.1 -12.1 4.9 -13.9 4.3 -14 2.9 -24 3.7 -53 6.5 -16 1.5 -16 0.7 -15 0 -16 -0.7 -21 -1.5 -17 -1.9 -16 -2.6 -15 -3.3zM626 824l40.2 0 0 299.7 -7.5 -14.7 -6 -13 -5.4 -13 -3.8 -11 -4 -13 -3.8 -15 -2.9 -14 -2.2 -14 -1.4 -12 -0.9 -12 -0.7 -13 -0.3 -13 0.3 -27 2 -57 -0.2 -18 -1 -20 -1.1 -11z" fill="#41af00" fill-rule="evenodd"/>
<path d="M47.2 824l138.2 0 26.5 21 18.2 15 14.9 13 13.7 13 12.5 13 12.2 14 20.7 26 8 11 9.6 16 7.8 17 6.9 17 7.8 24 10 36 4.6 18 2.1 10 2.1 11 1.1 8 1.4 14 0.3 10 -0.3 7 -0.6 7 -1.2 7 -1.6 7 -2.1 7 -2.3 6 -2.8 6 -3.2 6 -3.5 5.6 -3.8 5.4 -5.5 7 -5.3 6 -4.4 4.3 -6.6 5.7 -6.4 5 -5.8 4 -12.2 7.5 -10 5.1 -13 5.1 -11 3.4 -11 2.4 -25 4.4 -39 5.5 -18 2.2 -15 1.2 -15 0.6 -14 -0.1 -17 -0.8 -19 -1.5 -15 -1.7 -15 -2.4 -14 -3.1zM626.7 824l39.5 0 0 296.3 -6.7 -13.3 -6 -13 -4.9 -12 -4.2 -12 -3.9 -13 -3.8 -15 -2.8 -14 -2.2 -14 -1.4 -12 -0.9 -12 -0.7 -13 -0.3 -13 0.2 -27 1.7 -55 -0.2 -18 -1 -20 -1 -10z" fill="#5ab400" fill-rule="evenodd"/>
<path d="M47.2 824l135.9 0 25.7 21 17.7 15 15.4 14 14.2 14 12.8 14 12.4 15 20.6 27 8 12 4.7 8 3.7 7 4.1 9 4.5 11 5.3 15 6.3 22 3.8 16 3.7 17 3.8 19 2.2 13 1.5 11 1.1 12 0.4 9 -0.2 9 -0.6 7 -1 7 -1.6 7 -1.7 6 -2.2 6 -2.6 6 -3.2 6 -3.6 6 -4.2 6 -4.7 6 -4.4 5 -5 5 -5.5 5 -5.3 4.3 -6.5 4.7 -7.6 5 -9.9 5.5 -10 4.5 -10 3.7 -11 3 -20.6 4.3 -12.4 2.3 -37 5.8 -21 2.6 -15 1 -14 0.4 -15 -0.3 -18 -1 -15 -1.2 -13 -1.6 -13 -2.2 -13 -2.9zM627.3 824l38.9 0 0 293 -6.5 -13 -5.8 -13 -4 -10 -4.9 -14 -4.1 -14 -3.2 -13 -2.8 -14 -2.1 -14 -1.3 -11 -1 -12 -1.1 -26 0.2 -27 1.5 -55 -0.3 -17 -1 -20 -1 -10z" fill="#7dbe00" fill-rule="evenodd"/>
<path d="M47.2 824l133.7 0 25 21 18.1 16 15.9 15 13.6 14 12.3 14 11.8 15 19.6 27 8.5 13 4.5 8 3.6 7 3.5 8 4 10 5.6 17 2.7 10 2.4 10 2.3 12 2.1 14 5.2 42 1.7 22 0.1 8 -0.3 8 -0.7 7 -1 6 -1.4 6 -1.8 6 -2.3 6 -2.7 6 -3 5.5 -3.4 5.5 -4.2 6 -4.1 5 -4.5 5 -4.8 4.8 -5 4.4 -6 4.7 -6 4.3 -6 3.8 -9.2 5 -9.8 4.3 -10 3.5 -11.5 3.2 -21.5 4.8 -27 5 -20 3.3 -16 2.1 -14 1.1 -14 0.4 -15 -0.3 -18 -0.8 -15 -1.2 -13 -1.5 -13 -2.2 -12 -2.6zM628 824l38.2 0 0 289.8 -6.7 -13.8 -5.6 -13 -3.9 -10 -4.4 -13 -3.8 -13 -3.3 -14 -2.8 -14 -1.9 -13 -2.3 -23 -1.1 -26 0.1 -26 1.3 -54 -0.3 -18 -1.1 -20z" fill="#a0cb00" fill-rule="evenodd"/>
<path d="M47.2 824l131.5 0 23.2 20 18.7 17 15.4 15 14 15 11.8 14 11.4 15 16.5 24 11.5 17.9 4 7.2 3.9 7.9 3.5 8 3.4 9 2.9 9 2.6 9 2.1 9 1.7 9 1.7 13 1.1 14 1.1 32 1.9 32 0 9 -0.4 8 -0.8 6 -1.1 6 -1.5 6 -1.6 5 -4.3 10 -5.9 10 -3.6 5 -4.1 5 -8.6 8.9 -9.8 8.1 -10.5 7 -9.3 5 -9.4 4.1 -11 3.9 -12 3.4 -19 4.6 -27 5.5 -17 3.1 -15 2 -13 1.1 -14 0.4 -17 -0.1 -17 -0.7 -13 -0.9 -13 -1.5 -13 -2.1 -12 -2.5zM628.6 824l37.6 0 0 286.6 -6.4 -13.6 -5.2 -12 -3.8 -10 -4.3 -13 -3.8 -13 -3.1 -13 -2.7 -14 -2.2 -14 -2.2 -23 -1.1 -25 0 -26 1.1 -54 -0.3 -17 -1.2 -20z" fill="#c3d700" fill-rule="evenodd"/>
<path d="M47.2 824l129.4 0 22.6 20 18.2 17 15.8 16 13.5 15 12.1 15 10.8 15 11.1 17 15.9 26 4.4 8 3.4 7 3.3 8 2.8 8 2.8 9 2 8 1.9 9 1.2 8 0.9 11 0.1 11 -0.5 10 -1.8 21 -0.4 10 0.2 9 1.5 25 0 8 -0.5 7 -1.7 10 -3.1 10 -4 9 -5.6 9 -6.4 8 -8 8 -8.9 7.2 -10 6.5 -8.2 4.3 -9.8 4.2 -11 4 -12.6 3.8 -19.4 4.9 -23 5.2 -15 2.9 -14 1.9 -12 1.1 -13 0.5 -18 0.1 -17 -0.6 -13 -0.8 -13 -1.5 -12 -1.8 -12 -2.4zM629.3 824l36.9 0 0 283.4 -6.2 -13.4 -5.5 -13 -4 -11 -3.5 -11 -3.7 -13 -3 -13 -2.5 -13 -2.1 -14 -2.2 -22 -1.1 -25 -0.1 -26 0.9 -53 -0.3 -17 -1.2 -20z" fill="#e1e800" fill-rule="evenodd"/>
<path d="M47.2 824l127.4 0 23 21 17.6 17 15.3 16 12.9 15 11.6 15 11 16 8.6 14 16.7 29 4.3 8 3.8 8 2.8 7 2.3 7 2.6 9 1.9 8 1.4 8 0.9 8 0.3 11 -0.8 11 -1.6 10 -4.4 21 -1.3 11 0.1 11 2.2 26 -0.1 7 -0.5 7 -1.7 9 -2.5 8 -3.8 8 -5 7.7 -6 7.3 -7.3 7 -7.7 6 -9.3 6 -8.7 4.5 -12 5.1 -10 3.6 -12.3 3.8 -18.3 5 -18.4 4.5 -13 2.6 -14 2.1 -11 1 -13 0.6 -19 0.3 -16 -0.4 -13 -0.8 -12 -1.2 -12 -1.7 -12 -2.3zM629.9 824l36.3 0 0 280.2 -5.6 -12.2 -5.4 -13 -3.6 -10 -3.8 -12 -3.4 -12 -3 -13 -2.7 -14 -2 -13 -2.2 -22 -1.2 -25 -0.1 -25 0.7 -53 -0.4 -17 -1.2 -20z" fill="#faf500" fill-rule="evenodd"/>
<path d="M47.2 824l125.4 0 19.3 18 15.4 15 13.3 14 11.5 13 10.5 13 10.1 14 9.1 14 8.6 15 18.1 34 4.7 10 3.1 8 3.6 12 2.6 12 1.2 12 0.1 10 -0.9 8 -1.8 9 -1.8 7 -5.7 18 -1.7 7 -1 6 -0.2 5 0.1 7 2.2 23 0.3 8 -0.3 6 -0.5 5 -0.9 5 -1.3 5 -2.3 6 -2.8 5.3 -3.8 5.7 -4.9 6 -5 5 -6.3 5.4 -6.4 4.6 -6.6 3.9 -8.1 4.1 -12.9 5.7 -11.8 4.3 -11.2 3.6 -17 4.9 -13 3.3 -12 2.4 -13 2.1 -10 1 -13 0.7 -19 0.5 -16 -0.1 -12 -0.6 -12 -1.1 -12 -1.6 -12 -2.2zM630.5 824l35.7 0 0 277.1 -5.5 -12.1 -4.9 -12 -4.2 -12 -3.7 -12 -3.2 -12 -2.9 -13 -2.3 -12 -1.9 -13 -2.2 -22 -1.2 -25 -0.2 -25 0.6 -52 -0.4 -16 -1.1 -19 -1.1 -10z" fill="#fffa00" fill-rule="evenodd"/>
<path d="M47.2 824l123.5 0 18.9 18 15.8 16 13.8 15 11.7 14 10.6 14 9.5 14 8.9 15 7.9 15 16.8 35 3.8 9 2.9 9 2.7 11 1.5 10 0.5 10 -0.7 10 -1 6 -1.7 7 -2.2 7 -6.7 19 -2 7 -1.2 6 -0.8 7 -0.2 7 1.2 25 0 9 -0.5 5 -0.8 5 -1.3 5 -1.4 4 -2.8 6 -3.7 6 -4.8 6 -5 5 -5.9 5 -5.6 4 -6.6 4 -9.1 4.8 -9 4.1 -11 4.3 -10.9 3.8 -12.1 3.7 -11 3 -10 2.3 -11 2.1 -10 1.5 -12 1.1 -17 0.9 -14 0.5 -12 -0.1 -12 -0.5 -11 -0.9 -11 -1.4 -12 -2zM631.2 824l35 0 0 274 -4.9 -11 -4.4 -11 -4.2 -12 -4 -13 -3.2 -12 -2.9 -13 -2.2 -12 -1.9 -13 -2.2 -22 -1.2 -24 -0.2 -25 0.4 -51 -0.5 -16 -1.2 -20z" fill="#ffcd00" fill-rule="evenodd"/>
<path d="M47.2 824l121.6 0 18.4 18 15.5 16 13.3 15 11.4 14 10.3 14 9.6 15 8.5 15 7.8 16 13.6 31 5.6 15 2.2 8 1.5 7 1.1 8 0.5 7 -0.1 6 -0.5 5 -0.7 5 -1.3 6 -2.8 9 -8.7 24 -1.9 7 -1.5 7 -1.3 12 -0.3 28 -0.4 6 -0.8 6 -1.9 8 -3.3 8 -4.3 7 -5.7 7 -6.4 6 -8.1 6 -9.9 5.9 -10 5 -9 3.9 -8.6 3.2 -10.4 3.5 -10 2.9 -10 2.6 -9.6 2 -9.4 1.7 -10 1.3 -12 1.1 -15 1 -12 0.5 -11 0 -11 -0.3 -11 -0.8 -11 -1.3 -11 -1.6zM631.8 824l34.4 0 0 270.9 -4.8 -10.9 -3.9 -10 -4.5 -13 -3.6 -12 -3.2 -12 -2.6 -12 -2.3 -12 -1.9 -13 -2.2 -22 -1.2 -24 -0.3 -24 0.3 -52 -0.5 -16 -1.3 -19z" fill="#ffa000" fill-rule="evenodd"/>
<path d="M47.2 824l119.8 0 18 18 15 16 13 15 11.8 15 9.7 14 9.3 15 8 15 7.3 16 11 28 5.7 17 2 8 1.5 8 0.8 7 0.2 7 -0.8 10 -2.1 10 -2.8 9 -9.3 25 -2 7 -1.7 7 -1.8 12 -1.6 28 -0.7 6 -1.1 6 -2.4 8 -3.7 8 -4.7 7 -5.3 6 -6.8 6 -8.5 6 -9.8 5.6 -11 5.1 -8.3 3.3 -8.6 3 -18.1 5.1 -19 4 -20 2.8 -23 1.9 -20 0.5 -10 -0.3 -10 -0.6 -20 -2.4zM632.4 824l33.8 0 0 267.9 -4.7 -10.9 -3.8 -10 -4.1 -12 -3.8 -13 -3.1 -12 -2.8 -13 -2.1 -12 -1.7 -12 -2.1 -22 -1.2 -23 -0.3 -24 0.1 -50 -0.5 -15 -1.3 -20z" fill="#ff7300" fill-rule="evenodd"/>
<path d="M47.2 824l118 0 16.7 17 14.7 16 12.6 15 11.5 15 10.2 15 8.3 14 7.7 15 6.9 16 4.2 11 4.8 14 3.5 11 2.4 9 2 9 1.3 8 0.6 7 0.1 7 -1 9 -2.3 10 -2.9 9 -9 24 -2.3 7.5 -1.9 7.5 -2.2 12 -2.8 27 -1.9 11 -2.5 8 -3.9 8 -4.8 7 -5.4 6 -7 6 -8.8 6 -9.8 5.3 -10.6 4.7 -15.4 5.4 -18 4.8 -20 4 -20 2.8 -19 1.6 -18 0.4 -18 -0.7 -18 -1.9zM633 824l33.2 0 0 264.9 -4.6 -10.9 -3.7 -10 -4 -12 -3.5 -12 -3 -12 -2.6 -12 -2.1 -12 -1.7 -12 -2.1 -21 -1.2 -23 -0.4 -24 0 -51 -0.6 -15 -1.3 -20z" fill="#ff4600" fill-rule="evenodd"/>
<path d="M47.2 824l116.3 0 16.3 17 14.3 16 12.3 15 10.4 14 9.9 15 8.1 14 7.4 15 6.2 15 3.9 11 3.5 11 3.2 11 2.4 10 1.9 10 1.5 10 0.6 7 -0.1 7 -1 9 -2.4 10 -3 9 -8.9 24 -4.4 15 -2.4 11.5 -3.7 25.5 -2 10 -2.6 8 -3.7 7.7 -5 7.3 -5.5 6 -7 6 -8.5 5.8 -9.9 5.2 -10.1 4.3 -15 5 -18 4.6 -19.5 4.1 -18.5 2.8 -17 1.5 -17 0.6 -16 -0.5 -17 -1.4zM633.6 824l32.6 0 0 261.9 -4.5 -10.9 -3.9 -11 -3.9 -12 -3.1 -11 -2.9 -12 -2.3 -11 -2.1 -12 -1.7 -12 -2.1 -21 -1.2 -23 -0.5 -23 -0.1 -50 -0.5 -15 -1.4 -20z" fill="#ff1e00" fill-rule="evenodd"/>
<path d="M47.2 824l114.6 0 16 17 13.9 16 12 15 10.1 14 8.9 14 7.9 14 7.1 15 5.9 15 3.4 10 2.9 10 2.9 11 2.1 10 1.6 10 1.3 12 0.6 8 -0.1 6 -1.2 9 -2.4 10 -2.9 9 -8.6 23.4 -4.8 16.6 -2.1 9 -5 26 -1.7 7 -3.1 9 -3.5 7 -5.5 8 -5.7 6 -7 6 -7.6 5 -10 5.2 -11 4.5 -15 4.8 -21.4 5.5 -15.6 3.3 -15 2.3 -16 1.6 -15 0.7 -15 -0.2 -16 -1.1zM634.2 824l32 0 0 258.9 -3.6 -8.9 -4.3 -12 -3.5 -11 -3.4 -12 -2.6 -11 -2.5 -12 -2 -11 -1.8 -13 -1.9 -20 -1.3 -23 -0.5 -23 -0.2 -49 -0.6 -15 -1.4 -20z" fill="#fd0000" fill-rule="evenodd"/>
<path d="M47.2 824l113 0 19.1 21 15.7 19 13.1 18 10.8 17 5 9 4.1 8 4.1 9 3.7 9 3.2 9 3.2 10 2.7 10 2.3 10 2.7 16 1.5 17 0.1 12 -0.4 5 -0.9 6 -1.5 7 -2 7 -9 26 -3.5 11.3 -11.1 43.7 -3.2 9 -3.9 8 -2.8 4.4 -3 4.1 -3 3.5 -4 4 -8 6.4 -5 3.2 -5 2.8 -11 5.1 -13 4.6 -21 6.2 -17 4 -19 3.3 -19 1.9 -19 0.5 -19 -0.8zM634.8 824l31.4 0 0 255.9 -3.5 -8.9 -4.2 -12 -3.7 -12 -3 -11 -4.9 -22 -3.5 -23 -2 -20 -1.3 -23 -0.6 -23 -0.3 -49 -0.6 -14 -1.4 -20z" fill="#fd0000" fill-rule="evenodd"/>
<path d="M47.2 824l111.4 0 18.7 21 8.2 10 7.8 10 7.3 10 6.1 9 5.6 9 5.1 9 5.2 10 4.1 9 4.1 10 3.2 9 3 10 2.6 10 2.1 10 1.7 10 1.6 15 0.4 15 -0.7 12 -2 11 -3.3 12 -9.8 30 -7.8 29 -3.6 11.7 -2.7 7.3 -2.6 6 -3.2 6 -3.2 5 -3.3 4.4 -4 4.4 -4 3.8 -4 3.3 -5 3.6 -5 3 -10.9 5.5 -15.6 6 -20.5 6.4 -18 4.4 -17 3 -13 1.5 -13 0.9 -13 0.2 -13 -0.4zM635.3 824l30.9 0 0 252.9 -3.8 -9.9 -3.7 -11 -3.4 -11 -2.9 -11 -4.8 -22 -3.5 -23 -2 -20 -1.2 -22 -0.6 -22 -0.5 -49 -0.6 -14 -1.5 -20z" fill="#fd0000" fill-rule="evenodd"/>
<path d="M47.2 824l109.8 0 19.1 22 8.1 10 7.5 10 7 10 5.8 9 6 10 5.3 10 4.8 10 3.8 9 3.7 10 3.1 10 2.7 10 2.1 10 1.8 11 1.2 10 0.7 15 -0.3 14 -1.5 12 -2.8 12 -10.5 34 -7.2 26 -3.4 10 -3.6 9 -3.4 7 -4.1 7 -4.7 6.5 -3.9 4.5 -4.1 4.1 -4.6 3.9 -5.4 3.9 -5 3.1 -6 3.3 -7 3.3 -7 3 -19 6.7 -19 5.4 -9 2 -10 1.8 -9 1.4 -10 1.1 -16 0.9 -16 -0.1zM635.9 824l30.3 0 0 249.9 -3.7 -9.9 -3.6 -11 -3.3 -11 -2.9 -11 -4.7 -22 -3.2 -22 -2 -20 -1.2 -21 -0.6 -22 -0.6 -48 -0.6 -14 -1.6 -21z" fill="#fd0000" fill-rule="evenodd"/>
<path d="M47.2 824l108.2 0 10.5 12 9.1 11 8.5 11 7.3 10 6.7 10 6.2 10 5.5 10 5 10 4.4 10 3.8 10 3.3 10 3 11 2.3 11 1.8 11 1.1 11 0.5 10 0 10 -0.4 9 -1 9 -1.7 9 -3.3 13 -8.5 28 -7.2 25 -4.1 11 -6 12.1 -6 9.4 -7 8.5 -5 4.9 -5 4.2 -5.4 3.9 -6.6 4.1 -7 3.7 -8 3.7 -8.5 3.5 -9.5 3.5 -10 3.2 -9 2.6 -9 2.2 -10 2.1 -9 1.5 -10 1.2 -10 0.9 -10 0.5 -10 0.1zM636.5 824l29.7 0 0 247 -6.9 -20 -5.8 -21 -4.7 -22 -3.2 -22 -2 -20 -1.2 -21 -0.7 -22 -0.7 -47 -0.6 -14 -1.6 -21z" fill="#fd0000" fill-rule="evenodd"/>
<path d="M47.2 824l106.7 0 10.3 12 8.9 11 8.3 11 7.1 10 6.5 10 6 10 5.4 10 4.8 10 4.2 10 3.6 10 3.1 10 2.7 11 2.1 11 1.5 11 0.9 11 0.3 10 -0.3 10 -0.7 9 -1.2 9 -1.7 9 -3.9 15 -14.6 48.5 -1.7 4.5 -2.3 5.2 -6 11.1 -6.7 9.7 -7.3 8.5 -5 4.7 -6 4.9 -6 4.2 -7 4.2 -8 4.2 -8 3.7 -8.8 3.6 -9.2 3.3 -9 2.9 -10 2.8 -9 2.2 -10 1.9 -10 1.5 -10 1.1 -10 0.7 -10 0.4zM637.1 824l29.1 0 0 243.9 -6.7 -19.9 -5.7 -21 -4.3 -21 -3.3 -22 -1.9 -20 -1.3 -22 -0.6 -20 -0.8 -47 -0.6 -13 -1.6 -21z" fill="#fd0000" fill-rule="evenodd"/>
<path d="M47.2 824l105.2 0 9.3 11 8.8 11 8.2 11 6.9 10 6.4 10 5.8 10 4.8 9 4.7 10 4.2 10 3.5 10 3 10 2.5 10 2 11 1.3 10 0.9 11 0.3 10 -0.3 10 -0.8 10 -1.2 9 -2 10 -4.7 18 -12.7 41 -3.9 10 -5.4 10 -6.8 10 -8 9.4 -5 4.8 -5.6 4.8 -6.4 4.7 -6 3.8 -7 4 -8 4 -9 4 -9 3.5 -9 3.1 -9 2.8 -9 2.3 -10 2.2 -9.1 1.6 -9.9 1.3 -10 1 -10 0.6zM637.6 824l28.6 0 0 240.9 -6.6 -19.9 -5.5 -21 -4.2 -21 -3 -21 -2 -20 -1.2 -21 -0.6 -20 -0.9 -46 -0.6 -13 -1.7 -21z" fill="#aaaaaa" fill-rule="evenodd"/>
<path d="M315.2 824l7 3.5 6 3.7 6 4.1 6 4.8 6 5.4 5 4.9 13 14.6 10 12.6 12.6 17.4 27.5 40 18.9 30 15 21 21.7 24 16.3 20.1 6 6.9 8 8.2 9 8.3 10 8.6 8 6.1 7 4.6 6 3 5 1.8 5 0.5 3 -0.4 3 -1.1 2 -1.3 2.5 -2.3 2.5 -3.3 2 -3.3 4 -8.9 4 -11.8 5 -17.7 9 -35.7 8 -33.9 5 -23 4 -20.4 3.3 -20 1.3 -12 1.2 -17 0.3 -14 -0.8 -15 -1.6 -13M666.2 1249.6l-7 -5.2 -7 -4.5 -6 -3.4 -5 -2.2 -4 -1.3 -5 -1 -3 -1.2 -3 -0.8 -2 0 -2 0.4 -2.4 1.6 -1.5 2 -0.9 2 -1.7 6 -2.3 5 -1.8 5 -2.6 10 -3.9 20 -1.9 8 -4.3 13 -4.7 11 -7.7 15 -4.2 7 -4.1 6 -4.7 6 -4.3 4.7 -4 3.8 -5.6 4.5M256.8 824l21.5 8 16 7 7.8 4 7 4 6.3 4 6.8 4.8 10.2 8.2 8.8 8.7 12.8 14.3 18.9 23 30.3 40.2 10.1 12.8 10.5 15 11.4 14.3 15 20.8 8 11.9 13.1 23 18 28 13.3 25 3.3 7 20.7 51 3.6 10 2.8 10 2 9 1.8 10 1.1 9 0.8 9 0.4 9 0 9 -0.4 9 -0.9 9 -1.1 8 -1.6 8 -1.8 7 -2.3 7 -2.9 7 -3.6 7 -3.7 6 -3.6 4.9 -4 4.6 -4.5 4.5 -4.6 4 -5.2 4 -5.7 3.7 -5.6 3.3 -6.4 3.3 -7 3.1 -11 4.2 -12 3.7 -43 10.6 -19.2 5.1M666.2 1200.4l-14.3 -21.4 -6.2 -10 -6.5 -11.3 -8.7 -13.7 -6.8 -12 -5.6 -11 -6.5 -15 -2.9 -9 -3.8 -15 -2.8 -16 -1.6 -14 -0.7 -15 0 -15 0.8 -17 1.2 -14 1.9 -17 9.7 -73 1.1 -11 0.9 -15 0.5 -14 -0.2 -12 -0.9 -13 -1.6 -12M197.4 1361l-31.2 -5 -54 -6.7 -65 -8.4M222.7 824l41.6 21 12.7 7 9.9 6 10.5 7 9.3 7 8.5 7.3 9.1 8.7 7.5 8 9.4 10.6 12.4 15.4 5.2 7 15.3 22 22.8 35 13.3 21 12.4 21 3.9 7 4.4 9 18.3 40 9.1 23 8.9 26 8.7 34 2 10 1.3 11 0.6 12 -0.1 11 -0.7 10 -1.5 10 -2.2 10 -2.8 9 -2.8 7 -3.5 7 -4 6.3 -4.3 5.7 -4.7 5.1 -5.5 4.9 -5.5 3.7 -6 3.3 -9 4 -9 2.9 -11 2.6 -28 7.4 -16.8 4.1 -16.2 3.5 -15 2.5 -17 2 -27 2.1 -25 1.1 -59 0.5 -30 -0.4 -31 -1.7 -53 -4.6 -18 -2.3 -24 -4.5M666.2 1167l-16.4 -28 -6.1 -11 -7.1 -14 -6.6 -15 -4.3 -12 -4.4 -15 -3.4 -15 -2.4 -14 -1.4 -12 -0.9 -11 -0.5 -13 0 -13 0.4 -15 0.9 -16 5.5 -64 1.2 -20 0.3 -16 -0.3 -13 -1 -14 -1.6 -12M201.3 824l38.6 25 20.4 14 18.4 14 8.3 7 8.7 8 8.2 8 8.3 8.8 16.6 19.2 14.6 20 15.5 26 14.3 26.9 14 30.1 3.9 9 5.5 14 11.4 31 3.8 12 3.6 13 2.8 13 2 12 1.6 14 0.5 12 -0.3 11 -1.2 10 -2 10 -2.8 10 -2.8 7.3 -3.2 6.7 -4.5 8 -4.3 6.3 -6.5 7.7 -5.8 6 -5.7 4.9 -8.4 6.1 -4.7 3 -6.9 3.5 -14 6.3 -11 4.4 -10 3.5 -10 3.1 -11 2.9 -11 2.6 -17 3.3 -20 2.4 -19 1 -13 1.1 -38 2.5 -14 0.6 -12 0.1 -25 -0.4 -24 -1.6 -16 -1.4 -16 -1.8 -11 -1.5 -12 -2.2 -12 -2.6M666.2 1141.3l-7.6 -13.3 -7.2 -14 -6.5 -14 -5.4 -13 -4.7 -14 -4.2 -15 -3.3 -15 -2.7 -16 -1.5 -13 -1 -13 -0.5 -13 -0.1 -14 0.8 -29 3.3 -61 0.2 -19 -0.9 -21 -1 -10 -1.4 -10M185.4 824l29 23 19.2 16 16.8 15 15.1 15 9.3 10 8.6 10 22.2 28 7.8 11 8.8 15 5.6 12 5.5 13 3.8 10 4.7 14 3.9 13 7.2 26 5.9 23 2.5 12 1.9 10 1 8 1.3 13 0.3 10 -0.4 9 -1 8 -1.5 8 -2.2 8 -2.2 6 -2.6 6 -3.6 7 -3.7 6 -4.2 6 -6.2 7.8 -5 5.6 -4.8 4.6 -7 6 -6.6 5 -5.9 4 -10.7 6.5 -6.7 3.5 -6.3 2.9 -9 3.5 -8 2.6 -15 3.5 -31 5.3 -48 6.4 -13 1.3 -14 0.7 -12 0.2 -12 -0.2 -15 -0.9 -17 -1.3 -12 -1.3 -11 -1.6 -11 -2 -10 -2.3M666.2 1120.3l-6.7 -13.3 -6 -13 -4.9 -12 -4.2 -12 -3.9 -13 -3.8 -15 -2.8 -14 -2.2 -14 -1.4 -12 -0.9 -12 -0.7 -13 -0.3 -13 0.2 -27 1.7 -55 -0.2 -18 -1 -20 -1 -10 -1.4 -10M172.6 824l24.5 23 18.9 19 16.1 18 7.4 9 6.8 9 11.7 17 10.8 18 19.2 36 5.2 11 2.8 7 3.7 12 2.6 12 1.3 11 0.3 10 -0.9 9 -1.6 9 -2.1 8 -5.7 18 -1.7 7 -1 6 -0.2 5 0.1 7 2.2 23 0.3 8 -0.3 6 -0.5 5 -0.9 5 -1.3 5 -1.9 5 -2.5 5 -3.1 5 -3.7 5 -3.9 4.4 -4.8 4.6 -4.7 4 -5.5 4 -5 3.2 -6 3.3 -17 7.8 -16 5.8 -16.1 4.9 -18.7 5 -15.2 3.2 -17 2.6 -15 1 -26 0.7 -21 -0.5 -20 -1.8 -10 -1.4 -10 -1.9M666.2 1101.1l-5.5 -12.1 -4.9 -12 -4.2 -12 -3.7 -12 -3.2 -12 -2.9 -13 -2.3 -12 -1.9 -13 -2.2 -22 -1.2 -25 -0.2 -25 0.6 -52 -0.4 -16 -1.1 -19 -1.1 -10 -1.5 -10M161.8 824l19.5 21 16.1 19 7 9 7.3 10 6.1 9 5.5 9 5.1 9 4.7 9 4.6 10 3.7 9 3.6 10 3.2 10 3.1 11 2.4 10 2.7 15 1.7 16 0.3 9 -1 9 -1.4 7 -2.2 8 -10.5 29 -4.1 14 -2.5 10 -5.6 29 -2.1 8 -2.9 8 -3.9 7.3 -5 7 -6.4 6.7 -7.4 6 -7.2 4.6 -10 5.1 -10 4 -15 4.8 -21.4 5.5 -15.6 3.3 -15 2.3 -16 1.6 -15 0.7 -15 -0.2 -16 -1.1M666.2 1082.9l-3.6 -8.9 -4.3 -12 -3.5 -11 -3.4 -12 -2.6 -11 -2.5 -12 -2 -11 -1.8 -13 -1.9 -20 -1.3 -23 -0.5 -23 -0.2 -49 -0.6 -15 -1.4 -20 -2.4 -18" fill="none" stroke="#050505" stroke-width="0.95" stroke-opacity="0.88"/>
</g>
<path d="M51.2 1356.1L45.4 1366.2M356.4 828.0L351.0 818.6M356.4 828.0L368.9 828.0M127.5 1356.1L124.7 1361.0M318.2 894.0L315.5 889.3M394.5 894.0L400.5 894.0M203.8 1356.1L198.0 1366.2M280.1 960.0L274.7 950.7M432.7 960.0L445.2 960.0M280.1 1356.1L277.3 1361.0M241.9 1026.0L239.2 1021.3M470.9 1026.0L476.8 1026.0M356.4 1356.1L350.6 1366.2M203.8 1092.0L198.4 1082.7M509.0 1092.0L521.5 1092.0M432.7 1356.1L429.9 1361.0M165.6 1158.1L162.9 1153.3M547.1 1158.1L553.1 1158.1M509.0 1356.1L503.2 1366.2M127.5 1224.1L122.1 1214.7M585.3 1224.1L597.8 1224.1M585.3 1356.1L582.5 1361.0M89.3 1290.1L86.6 1285.4M623.5 1290.1L629.4 1290.1M661.6 1356.1L655.8 1366.2M51.2 1356.1L45.8 1346.7M661.6 1356.1L674.1 1356.1" stroke="#000" stroke-width="2.11" fill="none"/>
<path d="M356.4 828L51.2 1356.1L661.6 1356.1Z" stroke="#000" stroke-width="2.47" fill="none" stroke-linejoin="miter"/>
<rect x="673.7" y="45.2" width="43.9" height="10.0" fill="#aaaaaa"/>
<rect x="673.7" y="538.60" width="43.9" height="10.80" fill="#000b82"/>
<rect x="673.7" y="528.31" width="43.9" height="10.80" fill="#000b82"/>
<rect x="673.7" y="518.01" width="43.9" height="10.80" fill="#000b82"/>
<rect x="673.7" y="507.72" width="43.9" height="10.80" fill="#000b82"/>
<rect x="673.7" y="497.42" width="43.9" height="10.80" fill="#000b82"/>
<rect x="673.7" y="487.12" width="43.9" height="10.80" fill="#001087"/>
<rect x="673.7" y="476.83" width="43.9" height="10.80" fill="#001e8e"/>
<rect x="673.7" y="466.53" width="43.9" height="10.80" fill="#0037a2"/>
<rect x="673.7" y="456.24" width="43.9" height="10.80" fill="#0064c8"/>
<rect x="673.7" y="445.94" width="43.9" height="10.80" fill="#00a0f5"/>
<rect x="673.7" y="435.65" width="43.9" height="10.80" fill="#00beff"/>
<rect x="673.7" y="425.35" width="43.9" height="10.80" fill="#1ebeeb"/>
<rect x="673.7" y="415.05" width="43.9" height="10.80" fill="#2dbee1"/>
<rect x="673.7" y="404.76" width="43.9" height="10.80" fill="#37bacd"/>
<rect x="673.7" y="394.46" width="43.9" height="10.80" fill="#3cb6b4"/>
<rect x="673.7" y="384.17" width="43.9" height="10.80" fill="#3cb28c"/>
<rect x="673.7" y="373.87" width="43.9" height="10.80" fill="#37ad5a"/>
<rect x="673.7" y="363.57" width="43.9" height="10.80" fill="#2daa28"/>
<rect x="673.7" y="353.28" width="43.9" height="10.80" fill="#28aa00"/>
<rect x="673.7" y="342.98" width="43.9" height="10.80" fill="#28aa00"/>
<rect x="673.7" y="332.69" width="43.9" height="10.80" fill="#28aa00"/>
<rect x="673.7" y="322.39" width="43.9" height="10.80" fill="#28aa00"/>
<rect x="673.7" y="312.10" width="43.9" height="10.80" fill="#28aa00"/>
<rect x="673.7" y="301.80" width="43.9" height="10.80" fill="#28aa00"/>
<rect x="673.7" y="291.50" width="43.9" height="10.80" fill="#28aa00"/>
<rect x="673.7" y="281.21" width="43.9" height="10.80" fill="#28aa00"/>
<rect x="673.7" y="270.91" width="43.9" height="10.80" fill="#28aa00"/>
<rect x="673.7" y="260.62" width="43.9" height="10.80" fill="#28aa00"/>
<rect x="673.7" y="250.32" width="43.9" height="10.80" fill="#32ac00"/>
<rect x="673.7" y="240.02" width="43.9" height="10.80" fill="#41af00"/>
<rect x="673.7" y="229.73" width="43.9" height="10.80" fill="#5ab400"/>
<rect x="673.7" y="219.43" width="43.9" height="10.80" fill="#7dbe00"/>
<rect x="673.7" y="209.14" width="43.9" height="10.80" fill="#a0cb00"/>
<rect x="673.7" y="198.84" width="43.9" height="10.80" fill="#c3d700"/>
<rect x="673.7" y="188.55" width="43.9" height="10.80" fill="#e1e800"/>
<rect x="673.7" y="178.25" width="43.9" height="10.80" fill="#faf500"/>
<rect x="673.7" y="167.95" width="43.9" height="10.80" fill="#fffa00"/>
<rect x="673.7" y="157.66" width="43.9" height="10.80" fill="#ffcd00"/>
<rect x="673.7" y="147.36" width="43.9" height="10.80" fill="#ffa000"/>
<rect x="673.7" y="137.07" width="43.9" height="10.80" fill="#ff7300"/>
<rect x="673.7" y="126.77" width="43.9" height="10.80" fill="#ff4600"/>
<rect x="673.7" y="116.48" width="43.9" height="10.80" fill="#ff1e00"/>
<rect x="673.7" y="106.18" width="43.9" height="10.80" fill="#fd0000"/>
<rect x="673.7" y="95.88" width="43.9" height="10.80" fill="#fd0000"/>
<rect x="673.7" y="85.59" width="43.9" height="10.80" fill="#fd0000"/>
<rect x="673.7" y="75.29" width="43.9" height="10.80" fill="#fd0000"/>
<rect x="673.7" y="65.00" width="43.9" height="10.80" fill="#fd0000"/>
<rect x="673.7" y="54.70" width="43.9" height="10.80" fill="#fd0000"/>
<rect x="673.7" y="548.9" width="43.9" height="11.1" fill="#000"/>
<rect x="673.7" y="45.2" width="43.9" height="514.8" fill="none" stroke="#000" stroke-width="1.9"/>
<text x="734.8" y="84.8" font-size="17.5">3.6</text>
<text x="734.8" y="121.0" font-size="17.5">2.6</text>
<text x="734.8" y="157.1" font-size="17.5">1.6</text>
<text x="734.8" y="193.3" font-size="17.5">0.6</text>
<text x="734.8" y="229.5" font-size="17.5">-0.4</text>
<text x="734.8" y="265.7" font-size="17.5">-1.4</text>
<text x="734.8" y="301.9" font-size="17.5">-2.4</text>
<text x="734.8" y="338.0" font-size="17.5">-3.4</text>
<text x="734.8" y="374.2" font-size="17.5">-4.4</text>
<text x="734.8" y="410.4" font-size="17.5">-5.4</text>
<text x="734.8" y="446.6" font-size="17.5">-6.4</text>
<text x="734.8" y="482.8" font-size="17.5">-7.4</text>
<text x="734.8" y="518.9" font-size="17.5">-8.4</text>
<text x="734.8" y="555.1" font-size="17.5">-9.4</text>
<path d="M717.6 78.6H728.7M717.6 114.7H728.7M717.6 150.9H728.7M717.6 187.1H728.7M717.6 223.3H728.7M717.6 259.5H728.7M717.6 295.6H728.7M717.6 331.8H728.7M717.6 368.0H728.7M717.6 404.2H728.7M717.6 440.4H728.7M717.6 476.5H728.7M717.6 512.7H728.7M717.6 548.9H728.7" stroke="#000" stroke-width="2" fill="none"/>
<rect x="680.1" y="785.9" width="45.7" height="10.6" fill="#aaaaaa"/>
<rect x="680.1" y="1292.83" width="45.7" height="11.07" fill="#000b82"/>
<rect x="680.1" y="1282.26" width="45.7" height="11.07" fill="#000b82"/>
<rect x="680.1" y="1271.69" width="45.7" height="11.07" fill="#000b82"/>
<rect x="680.1" y="1261.12" width="45.7" height="11.07" fill="#000b82"/>
<rect x="680.1" y="1250.55" width="45.7" height="11.07" fill="#000b82"/>
<rect x="680.1" y="1239.98" width="45.7" height="11.07" fill="#001087"/>
<rect x="680.1" y="1229.40" width="45.7" height="11.07" fill="#001e8e"/>
<rect x="680.1" y="1218.83" width="45.7" height="11.07" fill="#0037a2"/>
<rect x="680.1" y="1208.26" width="45.7" height="11.07" fill="#0064c8"/>
<rect x="680.1" y="1197.69" width="45.7" height="11.07" fill="#00a0f5"/>
<rect x="680.1" y="1187.12" width="45.7" height="11.07" fill="#00beff"/>
<rect x="680.1" y="1176.55" width="45.7" height="11.07" fill="#1ebeeb"/>
<rect x="680.1" y="1165.98" width="45.7" height="11.07" fill="#2dbee1"/>
<rect x="680.1" y="1155.41" width="45.7" height="11.07" fill="#37bacd"/>
<rect x="680.1" y="1144.84" width="45.7" height="11.07" fill="#3cb6b4"/>
<rect x="680.1" y="1134.27" width="45.7" height="11.07" fill="#3cb28c"/>
<rect x="680.1" y="1123.70" width="45.7" height="11.07" fill="#37ad5a"/>
<rect x="680.1" y="1113.12" width="45.7" height="11.07" fill="#2daa28"/>
<rect x="680.1" y="1102.55" width="45.7" height="11.07" fill="#28aa00"/>
<rect x="680.1" y="1091.98" width="45.7" height="11.07" fill="#28aa00"/>
<rect x="680.1" y="1081.41" width="45.7" height="11.07" fill="#28aa00"/>
<rect x="680.1" y="1070.84" width="45.7" height="11.07" fill="#28aa00"/>
<rect x="680.1" y="1060.27" width="45.7" height="11.07" fill="#28aa00"/>
<rect x="680.1" y="1049.70" width="45.7" height="11.07" fill="#28aa00"/>
<rect x="680.1" y="1039.13" width="45.7" height="11.07" fill="#28aa00"/>
<rect x="680.1" y="1028.56" width="45.7" height="11.07" fill="#28aa00"/>
<rect x="680.1" y="1017.99" width="45.7" height="11.07" fill="#28aa00"/>
<rect x="680.1" y="1007.42" width="45.7" height="11.07" fill="#28aa00"/>
<rect x="680.1" y="996.85" width="45.7" height="11.07" fill="#32ac00"/>
<rect x="680.1" y="986.28" width="45.7" height="11.07" fill="#41af00"/>
<rect x="680.1" y="975.70" width="45.7" height="11.07" fill="#5ab400"/>
<rect x="680.1" y="965.13" width="45.7" height="11.07" fill="#7dbe00"/>
<rect x="680.1" y="954.56" width="45.7" height="11.07" fill="#a0cb00"/>
<rect x="680.1" y="943.99" width="45.7" height="11.07" fill="#c3d700"/>
<rect x="680.1" y="933.42" width="45.7" height="11.07" fill="#e1e800"/>
<rect x="680.1" y="922.85" width="45.7" height="11.07" fill="#faf500"/>
<rect x="680.1" y="912.28" width="45.7" height="11.07" fill="#fffa00"/>
<rect x="680.1" y="901.71" width="45.7" height="11.07" fill="#ffcd00"/>
<rect x="680.1" y="891.14" width="45.7" height="11.07" fill="#ffa000"/>
<rect x="680.1" y="880.57" width="45.7" height="11.07" fill="#ff7300"/>
<rect x="680.1" y="870.00" width="45.7" height="11.07" fill="#ff4600"/>
<rect x="680.1" y="859.42" width="45.7" height="11.07" fill="#ff1e00"/>
<rect x="680.1" y="848.85" width="45.7" height="11.07" fill="#fd0000"/>
<rect x="680.1" y="838.28" width="45.7" height="11.07" fill="#fd0000"/>
<rect x="680.1" y="827.71" width="45.7" height="11.07" fill="#fd0000"/>
<rect x="680.1" y="817.14" width="45.7" height="11.07" fill="#fd0000"/>
<rect x="680.1" y="806.57" width="45.7" height="11.07" fill="#fd0000"/>
<rect x="680.1" y="796.00" width="45.7" height="11.07" fill="#fd0000"/>
<rect x="680.1" y="1303.4" width="45.7" height="11.1" fill="#000"/>
<rect x="680.1" y="785.9" width="45.7" height="528.6" fill="none" stroke="#000" stroke-width="1.9"/>
<text x="743.0" y="1309.8" font-size="18.0">-3.1</text>
<text x="743.0" y="1246.4" font-size="18.0">-1.4</text>
<text x="743.0" y="1182.9" font-size="18.0">0.4</text>
<text x="743.0" y="1119.5" font-size="18.0">2.2</text>
<text x="743.0" y="1056.1" font-size="18.0">4.0</text>
<text x="743.0" y="992.7" font-size="18.0">5.7</text>
<text x="743.0" y="929.2" font-size="18.0">7.5</text>
<text x="743.0" y="865.8" font-size="18.0">9.3</text>
<text x="743.0" y="802.4" font-size="18.0">11.1</text>
<path d="M725.8 1303.4H737.0M725.8 1240.0H737.0M725.8 1176.6H737.0M725.8 1113.1H737.0M725.8 1049.7H737.0M725.8 986.3H737.0M725.8 922.9H737.0M725.8 859.4H737.0M725.8 796.0H737.0" stroke="#000" stroke-width="2" fill="none"/>
<text x="327.2" y="64.9" font-size="22.5" text-anchor="middle">0.00</text>
<text x="53.0" y="633.4" font-size="22.5" text-anchor="middle">0.00</text>
<text x="377.1" y="92.2" font-size="22.5" text-anchor="start">1.00</text>
<text x="253.1" y="193.4" font-size="22.5" text-anchor="middle">0.25</text>
<text x="201.4" y="633.4" font-size="22.5" text-anchor="middle">0.25</text>
<text x="451.2" y="220.7" font-size="22.5" text-anchor="start">0.75</text>
<text x="178.9" y="321.9" font-size="22.5" text-anchor="middle">0.50</text>
<text x="349.8" y="633.4" font-size="22.5" text-anchor="middle">0.50</text>
<text x="525.4" y="349.2" font-size="22.5" text-anchor="start">0.50</text>
<text x="104.7" y="450.4" font-size="22.5" text-anchor="middle">0.75</text>
<text x="498.1" y="633.4" font-size="22.5" text-anchor="middle">0.75</text>
<text x="599.6" y="477.7" font-size="22.5" text-anchor="start">0.25</text>
<text x="30.5" y="578.9" font-size="22.5" text-anchor="middle">1.00</text>
<text x="646.5" y="633.4" font-size="22.5" text-anchor="middle">1.00</text>
<text x="673.8" y="606.2" font-size="22.5" text-anchor="start">0.00</text>
<text transform="translate(114.5 307.4) rotate(-60)" y="10.0" font-size="28.0" text-anchor="middle">Carbon</text>
<text transform="translate(580.5 308.3) rotate(60)" y="7.3" font-size="28.0" text-anchor="middle">Oxygen</text>
<text x="358.5" y="675.6" font-size="28.0" text-anchor="middle">Nitorgen</text>
<text x="111.2" y="149.2" font-size="28.0" text-anchor="middle">(a)</text>
<text x="325.0" y="808.1" font-size="23.1" text-anchor="middle">0.00</text>
<text x="41.6" y="1391.3" font-size="23.1" text-anchor="middle">0.00</text>
<text x="375.2" y="835.4" font-size="23.1" text-anchor="start">1.00</text>
<text x="248.7" y="940.1" font-size="23.1" text-anchor="middle">0.25</text>
<text x="194.2" y="1391.3" font-size="23.1" text-anchor="middle">0.25</text>
<text x="451.5" y="967.4" font-size="23.1" text-anchor="start">0.75</text>
<text x="172.4" y="1072.1" font-size="23.1" text-anchor="middle">0.50</text>
<text x="346.8" y="1391.3" font-size="23.1" text-anchor="middle">0.50</text>
<text x="527.8" y="1099.4" font-size="23.1" text-anchor="start">0.50</text>
<text x="96.1" y="1204.1" font-size="23.1" text-anchor="middle">0.75</text>
<text x="499.4" y="1391.3" font-size="23.1" text-anchor="middle">0.75</text>
<text x="604.1" y="1231.5" font-size="23.1" text-anchor="start">0.25</text>
<text x="19.8" y="1336.2" font-size="23.1" text-anchor="middle">1.00</text>
<text x="652.0" y="1391.3" font-size="23.1" text-anchor="middle">1.00</text>
<text x="680.4" y="1363.5" font-size="23.1" text-anchor="start">0.00</text>
<text transform="translate(105.5 1055.4) rotate(-60)" y="10.0" font-size="28.0" text-anchor="middle">Carbon</text>
<text transform="translate(583.5 1056.4) rotate(60)" y="7.3" font-size="28.0" text-anchor="middle">Oxygen</text>
<text x="356.2" y="1433.2" font-size="28.0" text-anchor="middle">Nitorgen</text>
<text x="112.0" y="861.3" font-size="28.0" text-anchor="middle">(b)</text>
<text x="592.0" y="26.1" font-size="27.6" font-family="'Liberation Serif', 'DejaVu Serif', serif" font-style="italic" textLength="19.5" lengthAdjust="spacingAndGlyphs" fill="#222" class="thin">E</text>
<text x="623.6" y="26.1" font-size="28" textLength="109" lengthAdjust="spacingAndGlyphs">cohesive</text>
<text x="735.9" y="29.6" font-size="40.5" font-family="'DejaVu Sans', sans-serif" font-weight="200" class="thin">/</text>
<text x="750.2" y="26.1" font-size="28" textLength="32.6" lengthAdjust="spacingAndGlyphs">eV</text>
<text x="615.8" y="766.3" font-size="28" textLength="109.5" lengthAdjust="spacingAndGlyphs">Enthalpy</text>
<text x="729.3" y="769.5" font-size="40.5" font-family="'DejaVu Sans', sans-serif" font-weight="200" class="thin">/</text>
<text x="746.3" y="766.3" font-size="28" textLength="33.8" lengthAdjust="spacingAndGlyphs">eV</text>
</svg>
</body></html>
